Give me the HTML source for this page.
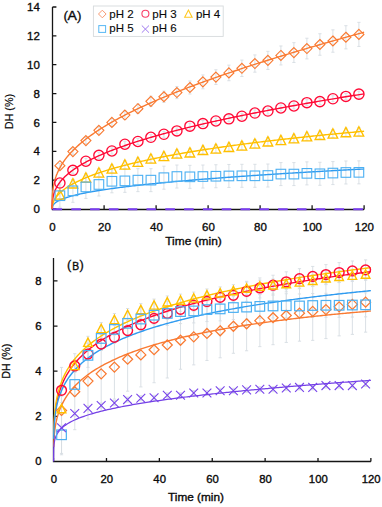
<!DOCTYPE html>
<html><head><meta charset="utf-8"><style>
html,body{margin:0;padding:0;background:#fff;}
body{width:382px;height:507px;overflow:hidden;font-family:"Liberation Sans",sans-serif;}
svg{display:block;}
</style></head><body>
<svg width="382" height="507" viewBox="0 0 382 507">
<path d="M52.50,6.98 V209.50 H364.10 M52.50,209.00 H56.40 M52.50,180.14 H56.40 M52.50,151.28 H56.40 M52.50,122.42 H56.40 M52.50,93.56 H56.40 M52.50,64.70 H56.40 M52.50,35.84 H56.40 M52.50,6.98 H56.40 M52.10,209.50 V205.20 M104.10,209.50 V205.20 M156.10,209.50 V205.20 M208.10,209.50 V205.20 M260.10,209.50 V205.20 M312.10,209.50 V205.20 M364.10,209.50 V205.20 " fill="none" stroke="#151515" stroke-width="1.3"/>
<path d="M59.90,184.22 V207.22 M58.30,184.22 H61.50 M58.30,207.22 H61.50" fill="none" stroke="#d6dde2" stroke-width="0.90"/>
<path d="M59.90,163.46 V167.97 M58.30,163.46 H61.50 M58.30,167.97 H61.50" fill="none" stroke="#d6dde2" stroke-width="0.90"/>
<path d="M59.90,190.57 V198.57 M58.30,190.57 H61.50 M58.30,198.57 H61.50" fill="none" stroke="#d6dde2" stroke-width="0.90"/>
<path d="M59.90,180.03 V186.03 M58.30,180.03 H61.50 M58.30,186.03 H61.50" fill="none" stroke="#d6dde2" stroke-width="0.90"/>
<path d="M72.90,179.32 V202.32 M71.30,179.32 H74.50 M71.30,202.32 H74.50" fill="none" stroke="#d6dde2" stroke-width="0.90"/>
<path d="M72.90,148.89 V154.25 M71.30,148.89 H74.50 M71.30,154.25 H74.50" fill="none" stroke="#d6dde2" stroke-width="0.90"/>
<path d="M72.90,179.46 V187.46 M71.30,179.46 H74.50 M71.30,187.46 H74.50" fill="none" stroke="#d6dde2" stroke-width="0.90"/>
<path d="M72.90,167.33 V173.33 M71.30,167.33 H74.50 M71.30,173.33 H74.50" fill="none" stroke="#d6dde2" stroke-width="0.90"/>
<path d="M85.90,175.42 V198.42 M84.30,175.42 H87.50 M84.30,198.42 H87.50" fill="none" stroke="#d6dde2" stroke-width="0.90"/>
<path d="M85.90,137.50 V143.71 M84.30,137.50 H87.50 M84.30,143.71 H87.50" fill="none" stroke="#d6dde2" stroke-width="0.90"/>
<path d="M85.90,173.54 V181.54 M84.30,173.54 H87.50 M84.30,181.54 H87.50" fill="none" stroke="#d6dde2" stroke-width="0.90"/>
<path d="M85.90,158.24 V164.24 M84.30,158.24 H87.50 M84.30,164.24 H87.50" fill="none" stroke="#d6dde2" stroke-width="0.90"/>
<path d="M98.90,172.97 V195.97 M97.30,172.97 H100.50 M97.30,195.97 H100.50" fill="none" stroke="#d6dde2" stroke-width="0.90"/>
<path d="M98.90,126.83 V133.89 M97.30,126.83 H100.50 M97.30,133.89 H100.50" fill="none" stroke="#d6dde2" stroke-width="0.90"/>
<path d="M98.90,168.49 V176.49 M97.30,168.49 H100.50 M97.30,176.49 H100.50" fill="none" stroke="#d6dde2" stroke-width="0.90"/>
<path d="M98.90,152.32 V158.32 M97.30,152.32 H100.50 M97.30,158.32 H100.50" fill="none" stroke="#d6dde2" stroke-width="0.90"/>
<path d="M111.90,169.79 V192.79 M110.30,169.79 H113.50 M110.30,192.79 H113.50" fill="none" stroke="#d6dde2" stroke-width="0.90"/>
<path d="M111.90,118.47 V126.38 M110.30,118.47 H113.50 M110.30,126.38 H113.50" fill="none" stroke="#d6dde2" stroke-width="0.90"/>
<path d="M111.90,164.60 V172.60 M110.30,164.60 H113.50 M110.30,172.60 H113.50" fill="none" stroke="#d6dde2" stroke-width="0.90"/>
<path d="M111.90,147.99 V153.99 M110.30,147.99 H113.50 M110.30,153.99 H113.50" fill="none" stroke="#d6dde2" stroke-width="0.90"/>
<path d="M124.90,169.36 V192.36 M123.30,169.36 H126.50 M123.30,192.36 H126.50" fill="none" stroke="#d6dde2" stroke-width="0.90"/>
<path d="M124.90,110.68 V119.44 M123.30,110.68 H126.50 M123.30,119.44 H126.50" fill="none" stroke="#d6dde2" stroke-width="0.90"/>
<path d="M124.90,160.56 V168.56 M123.30,160.56 H126.50 M123.30,168.56 H126.50" fill="none" stroke="#d6dde2" stroke-width="0.90"/>
<path d="M124.90,141.21 V147.21 M123.30,141.21 H126.50 M123.30,147.21 H126.50" fill="none" stroke="#d6dde2" stroke-width="0.90"/>
<path d="M137.90,168.64 V191.64 M136.30,168.64 H139.50 M136.30,191.64 H139.50" fill="none" stroke="#d6dde2" stroke-width="0.90"/>
<path d="M137.90,103.91 V113.52 M136.30,103.91 H139.50 M136.30,113.52 H139.50" fill="none" stroke="#d6dde2" stroke-width="0.90"/>
<path d="M137.90,157.81 V165.81 M136.30,157.81 H139.50 M136.30,165.81 H139.50" fill="none" stroke="#d6dde2" stroke-width="0.90"/>
<path d="M137.90,138.47 V144.47 M136.30,138.47 H139.50 M136.30,144.47 H139.50" fill="none" stroke="#d6dde2" stroke-width="0.90"/>
<path d="M150.90,168.64 V191.64 M149.30,168.64 H152.50 M149.30,191.64 H152.50" fill="none" stroke="#d6dde2" stroke-width="0.90"/>
<path d="M150.90,96.12 V106.58 M149.30,96.12 H152.50 M149.30,106.58 H152.50" fill="none" stroke="#d6dde2" stroke-width="0.90"/>
<path d="M150.90,154.50 V162.50 M149.30,154.50 H152.50 M149.30,162.50 H152.50" fill="none" stroke="#d6dde2" stroke-width="0.90"/>
<path d="M150.90,134.28 V140.28 M149.30,134.28 H152.50 M149.30,140.28 H152.50" fill="none" stroke="#d6dde2" stroke-width="0.90"/>
<path d="M163.90,166.19 V189.19 M162.30,166.19 H165.50 M162.30,189.19 H165.50" fill="none" stroke="#d6dde2" stroke-width="0.90"/>
<path d="M163.90,91.08 V102.39 M162.30,91.08 H165.50 M162.30,102.39 H165.50" fill="none" stroke="#d6dde2" stroke-width="0.90"/>
<path d="M163.90,152.04 V160.04 M162.30,152.04 H165.50 M162.30,160.04 H165.50" fill="none" stroke="#d6dde2" stroke-width="0.90"/>
<path d="M163.90,131.25 V137.25 M162.30,131.25 H165.50 M162.30,137.25 H165.50" fill="none" stroke="#d6dde2" stroke-width="0.90"/>
<path d="M176.90,165.03 V188.03 M175.30,165.03 H178.50 M175.30,188.03 H178.50" fill="none" stroke="#d6dde2" stroke-width="0.90"/>
<path d="M176.90,86.47 V98.63 M175.30,86.47 H178.50 M175.30,98.63 H178.50" fill="none" stroke="#d6dde2" stroke-width="0.90"/>
<path d="M176.90,149.59 V157.59 M175.30,149.59 H178.50 M175.30,157.59 H178.50" fill="none" stroke="#d6dde2" stroke-width="0.90"/>
<path d="M176.90,127.93 V133.93 M175.30,127.93 H178.50 M175.30,133.93 H178.50" fill="none" stroke="#d6dde2" stroke-width="0.90"/>
<path d="M189.90,165.32 V188.32 M188.30,165.32 H191.50 M188.30,188.32 H191.50" fill="none" stroke="#d6dde2" stroke-width="0.90"/>
<path d="M189.90,80.99 V94.00 M188.30,80.99 H191.50 M188.30,94.00 H191.50" fill="none" stroke="#d6dde2" stroke-width="0.90"/>
<path d="M189.90,148.43 V156.43 M188.30,148.43 H191.50 M188.30,156.43 H191.50" fill="none" stroke="#d6dde2" stroke-width="0.90"/>
<path d="M189.90,123.17 V129.17 M188.30,123.17 H191.50 M188.30,129.17 H191.50" fill="none" stroke="#d6dde2" stroke-width="0.90"/>
<path d="M202.90,165.03 V188.03 M201.30,165.03 H204.50 M201.30,188.03 H204.50" fill="none" stroke="#d6dde2" stroke-width="0.90"/>
<path d="M202.90,74.94 V88.80 M201.30,74.94 H204.50 M201.30,88.80 H204.50" fill="none" stroke="#d6dde2" stroke-width="0.90"/>
<path d="M202.90,145.98 V153.98 M201.30,145.98 H204.50 M201.30,153.98 H204.50" fill="none" stroke="#d6dde2" stroke-width="0.90"/>
<path d="M202.90,120.57 V126.57 M201.30,120.57 H204.50 M201.30,126.57 H204.50" fill="none" stroke="#d6dde2" stroke-width="0.90"/>
<path d="M215.90,164.74 V187.74 M214.30,164.74 H217.50 M214.30,187.74 H217.50" fill="none" stroke="#d6dde2" stroke-width="0.90"/>
<path d="M215.90,69.75 V84.46 M214.30,69.75 H217.50 M214.30,84.46 H217.50" fill="none" stroke="#d6dde2" stroke-width="0.90"/>
<path d="M215.90,144.54 V152.54 M214.30,144.54 H217.50 M214.30,152.54 H217.50" fill="none" stroke="#d6dde2" stroke-width="0.90"/>
<path d="M215.90,117.98 V123.98 M214.30,117.98 H217.50 M214.30,123.98 H217.50" fill="none" stroke="#d6dde2" stroke-width="0.90"/>
<path d="M228.90,164.46 V187.46 M227.30,164.46 H230.50 M227.30,187.46 H230.50" fill="none" stroke="#d6dde2" stroke-width="0.90"/>
<path d="M228.90,65.15 V80.71 M227.30,65.15 H230.50 M227.30,80.71 H230.50" fill="none" stroke="#d6dde2" stroke-width="0.90"/>
<path d="M228.90,142.95 V150.95 M227.30,142.95 H230.50 M227.30,150.95 H230.50" fill="none" stroke="#d6dde2" stroke-width="0.90"/>
<path d="M228.90,115.81 V121.81 M227.30,115.81 H230.50 M227.30,121.81 H230.50" fill="none" stroke="#d6dde2" stroke-width="0.90"/>
<path d="M241.90,164.31 V187.31 M240.30,164.31 H243.50 M240.30,187.31 H243.50" fill="none" stroke="#d6dde2" stroke-width="0.90"/>
<path d="M241.90,60.10 V76.51 M240.30,60.10 H243.50 M240.30,76.51 H243.50" fill="none" stroke="#d6dde2" stroke-width="0.90"/>
<path d="M241.90,141.51 V149.51 M240.30,141.51 H243.50 M240.30,149.51 H243.50" fill="none" stroke="#d6dde2" stroke-width="0.90"/>
<path d="M241.90,113.22 V119.22 M240.30,113.22 H243.50 M240.30,119.22 H243.50" fill="none" stroke="#d6dde2" stroke-width="0.90"/>
<path d="M254.90,164.31 V187.31 M253.30,164.31 H256.50 M253.30,187.31 H256.50" fill="none" stroke="#d6dde2" stroke-width="0.90"/>
<path d="M254.90,54.92 V72.18 M253.30,54.92 H256.50 M253.30,72.18 H256.50" fill="none" stroke="#d6dde2" stroke-width="0.90"/>
<path d="M254.90,139.49 V147.49 M253.30,139.49 H256.50 M253.30,147.49 H256.50" fill="none" stroke="#d6dde2" stroke-width="0.90"/>
<path d="M254.90,110.04 V116.04 M253.30,110.04 H256.50 M253.30,116.04 H256.50" fill="none" stroke="#d6dde2" stroke-width="0.90"/>
<path d="M267.90,164.02 V187.02 M266.30,164.02 H269.50 M266.30,187.02 H269.50" fill="none" stroke="#d6dde2" stroke-width="0.90"/>
<path d="M267.90,51.32 V69.43 M266.30,51.32 H269.50 M266.30,69.43 H269.50" fill="none" stroke="#d6dde2" stroke-width="0.90"/>
<path d="M267.90,137.47 V145.47 M266.30,137.47 H269.50 M266.30,145.47 H269.50" fill="none" stroke="#d6dde2" stroke-width="0.90"/>
<path d="M267.90,108.02 V114.02 M266.30,108.02 H269.50 M266.30,114.02 H269.50" fill="none" stroke="#d6dde2" stroke-width="0.90"/>
<path d="M280.90,162.58 V185.58 M279.30,162.58 H282.50 M279.30,185.58 H282.50" fill="none" stroke="#d6dde2" stroke-width="0.90"/>
<path d="M280.90,45.98 V64.94 M279.30,45.98 H282.50 M279.30,64.94 H282.50" fill="none" stroke="#d6dde2" stroke-width="0.90"/>
<path d="M280.90,136.02 V144.02 M279.30,136.02 H282.50 M279.30,144.02 H282.50" fill="none" stroke="#d6dde2" stroke-width="0.90"/>
<path d="M280.90,104.99 V110.99 M279.30,104.99 H282.50 M279.30,110.99 H282.50" fill="none" stroke="#d6dde2" stroke-width="0.90"/>
<path d="M293.90,162.58 V185.58 M292.30,162.58 H295.50 M292.30,185.58 H295.50" fill="none" stroke="#d6dde2" stroke-width="0.90"/>
<path d="M293.90,42.67 V62.48 M292.30,42.67 H295.50 M292.30,62.48 H295.50" fill="none" stroke="#d6dde2" stroke-width="0.90"/>
<path d="M293.90,134.29 V142.29 M292.30,134.29 H295.50 M292.30,142.29 H295.50" fill="none" stroke="#d6dde2" stroke-width="0.90"/>
<path d="M293.90,102.97 V108.97 M292.30,102.97 H295.50 M292.30,108.97 H295.50" fill="none" stroke="#d6dde2" stroke-width="0.90"/>
<path d="M306.90,161.86 V184.86 M305.30,161.86 H308.50 M305.30,184.86 H308.50" fill="none" stroke="#d6dde2" stroke-width="0.90"/>
<path d="M306.90,38.21 V58.87 M305.30,38.21 H308.50 M305.30,58.87 H308.50" fill="none" stroke="#d6dde2" stroke-width="0.90"/>
<path d="M306.90,132.27 V140.27 M305.30,132.27 H308.50 M305.30,140.27 H308.50" fill="none" stroke="#d6dde2" stroke-width="0.90"/>
<path d="M306.90,99.65 V105.65 M305.30,99.65 H308.50 M305.30,105.65 H308.50" fill="none" stroke="#d6dde2" stroke-width="0.90"/>
<path d="M319.90,162.29 V185.29 M318.30,162.29 H321.50 M318.30,185.29 H321.50" fill="none" stroke="#d6dde2" stroke-width="0.90"/>
<path d="M319.90,33.74 V55.25 M318.30,33.74 H321.50 M318.30,55.25 H321.50" fill="none" stroke="#d6dde2" stroke-width="0.90"/>
<path d="M319.90,130.97 V138.97 M318.30,130.97 H321.50 M318.30,138.97 H321.50" fill="none" stroke="#d6dde2" stroke-width="0.90"/>
<path d="M319.90,98.64 V104.64 M318.30,98.64 H321.50 M318.30,104.64 H321.50" fill="none" stroke="#d6dde2" stroke-width="0.90"/>
<path d="M332.90,161.57 V184.57 M331.30,161.57 H334.50 M331.30,184.57 H334.50" fill="none" stroke="#d6dde2" stroke-width="0.90"/>
<path d="M332.90,29.85 V52.21 M331.30,29.85 H334.50 M331.30,52.21 H334.50" fill="none" stroke="#d6dde2" stroke-width="0.90"/>
<path d="M332.90,129.53 V137.53 M331.30,129.53 H334.50 M331.30,137.53 H334.50" fill="none" stroke="#d6dde2" stroke-width="0.90"/>
<path d="M332.90,95.75 V101.75 M331.30,95.75 H334.50 M331.30,101.75 H334.50" fill="none" stroke="#d6dde2" stroke-width="0.90"/>
<path d="M345.90,160.99 V183.99 M344.30,160.99 H347.50 M344.30,183.99 H347.50" fill="none" stroke="#d6dde2" stroke-width="0.90"/>
<path d="M345.90,25.68 V48.89 M344.30,25.68 H347.50 M344.30,48.89 H347.50" fill="none" stroke="#d6dde2" stroke-width="0.90"/>
<path d="M345.90,128.23 V136.23 M344.30,128.23 H347.50 M344.30,136.23 H347.50" fill="none" stroke="#d6dde2" stroke-width="0.90"/>
<path d="M345.90,93.45 V99.45 M344.30,93.45 H347.50 M344.30,99.45 H347.50" fill="none" stroke="#d6dde2" stroke-width="0.90"/>
<path d="M358.90,160.85 V183.85 M357.30,160.85 H360.50 M357.30,183.85 H360.50" fill="none" stroke="#d6dde2" stroke-width="0.90"/>
<path d="M358.90,22.37 V46.43 M357.30,22.37 H360.50 M357.30,46.43 H360.50" fill="none" stroke="#d6dde2" stroke-width="0.90"/>
<path d="M358.90,127.51 V135.51 M357.30,127.51 H360.50 M357.30,135.51 H360.50" fill="none" stroke="#d6dde2" stroke-width="0.90"/>
<path d="M358.90,91.14 V97.14 M357.30,91.14 H360.50 M357.30,97.14 H360.50" fill="none" stroke="#d6dde2" stroke-width="0.90"/>
<path d="M52.10,209.00 L52.19,207.56 L52.28,207.09 L52.36,206.75 L52.45,206.47 L52.54,206.23 L52.63,206.02 L52.72,205.83 L52.81,205.65 L52.89,205.48 L52.98,205.33 L53.07,205.19 L53.16,205.05 L53.25,204.92 L53.33,204.79 L53.42,204.67 L53.51,204.56 L53.60,204.45 L53.69,204.34 L53.77,204.23 L53.86,204.13 L53.95,204.04 L54.04,203.94 L54.13,203.85 L54.22,203.76 L54.30,203.67 L54.39,203.59 L54.48,203.50 L54.57,203.42 L54.66,203.34 L54.74,203.26 L54.83,203.18 L54.92,203.11 L55.01,203.03 L55.10,202.96 L55.18,202.89 L55.27,202.82 L55.36,202.75 L55.45,202.68 L55.54,202.61 L55.63,202.55 L55.71,202.48 L55.80,202.42 L55.89,202.36 L55.98,202.29 L56.07,202.23 L56.15,202.17 L56.24,202.11 L56.33,202.05 L56.42,201.99 L56.51,201.93 L56.59,201.88 L56.68,201.82 L56.77,201.77 L56.86,201.71 L56.95,201.66 L57.04,201.60 L57.12,201.55 L57.21,201.49 L57.30,201.44 L58.84,200.60 L60.38,199.87 L61.93,199.21 L63.47,198.61 L65.01,198.06 L66.55,197.54 L68.09,197.06 L69.63,196.61 L71.18,196.17 L72.72,195.76 L74.26,195.37 L75.80,194.99 L77.34,194.62 L78.88,194.27 L80.43,193.93 L81.97,193.61 L83.51,193.29 L85.05,192.98 L86.59,192.68 L88.13,192.38 L89.68,192.10 L91.22,191.82 L92.76,191.55 L94.30,191.28 L95.84,191.02 L97.38,190.76 L98.93,190.51 L100.47,190.27 L102.01,190.03 L103.55,189.79 L105.09,189.56 L106.63,189.33 L108.18,189.11 L109.72,188.89 L111.26,188.67 L112.80,188.45 L114.34,188.24 L115.88,188.04 L117.43,187.83 L118.97,187.63 L120.51,187.43 L122.05,187.23 L123.59,187.04 L125.14,186.85 L126.68,186.66 L128.22,186.47 L129.76,186.29 L131.30,186.10 L132.84,185.92 L134.39,185.75 L135.93,185.57 L137.47,185.39 L139.01,185.22 L140.55,185.05 L142.09,184.88 L143.64,184.72 L145.18,184.55 L146.72,184.39 L148.26,184.22 L149.80,184.06 L151.34,183.90 L152.89,183.74 L154.43,183.59 L155.97,183.43 L157.51,183.28 L159.05,183.13 L160.59,182.98 L162.14,182.83 L163.68,182.68 L165.22,182.53 L166.76,182.38 L168.30,182.24 L169.84,182.09 L171.39,181.95 L172.93,181.81 L174.47,181.67 L176.01,181.53 L177.55,181.39 L179.09,181.25 L180.64,181.12 L182.18,180.98 L183.72,180.85 L185.26,180.71 L186.80,180.58 L188.35,180.45 L189.89,180.32 L191.43,180.19 L192.97,180.06 L194.51,179.93 L196.05,179.80 L197.60,179.67 L199.14,179.55 L200.68,179.42 L202.22,179.30 L203.76,179.17 L205.30,179.05 L206.85,178.93 L208.39,178.81 L209.93,178.69 L211.47,178.57 L213.01,178.45 L214.55,178.33 L216.10,178.21 L217.64,178.09 L219.18,177.98 L220.72,177.86 L222.26,177.74 L223.80,177.63 L225.35,177.51 L226.89,177.40 L228.43,177.29 L229.97,177.18 L231.51,177.06 L233.05,176.95 L234.60,176.84 L236.14,176.73 L237.68,176.62 L239.22,176.51 L240.76,176.40 L242.31,176.30 L243.85,176.19 L245.39,176.08 L246.93,175.97 L248.47,175.87 L250.01,175.76 L251.56,175.66 L253.10,175.55 L254.64,175.45 L256.18,175.34 L257.72,175.24 L259.26,175.14 L260.81,175.04 L262.35,174.93 L263.89,174.83 L265.43,174.73 L266.97,174.63 L268.51,174.53 L270.06,174.43 L271.60,174.33 L273.14,174.23 L274.68,174.13 L276.22,174.04 L277.76,173.94 L279.31,173.84 L280.85,173.74 L282.39,173.65 L283.93,173.55 L285.47,173.46 L287.01,173.36 L288.56,173.27 L290.10,173.17 L291.64,173.08 L293.18,172.98 L294.72,172.89 L296.26,172.80 L297.81,172.70 L299.35,172.61 L300.89,172.52 L302.43,172.43 L303.97,172.34 L305.52,172.24 L307.06,172.15 L308.60,172.06 L310.14,171.97 L311.68,171.88 L313.22,171.79 L314.77,171.70 L316.31,171.61 L317.85,171.53 L319.39,171.44 L320.93,171.35 L322.47,171.26 L324.02,171.17 L325.56,171.09 L327.10,171.00 L328.64,170.91 L330.18,170.83 L331.72,170.74 L333.27,170.66 L334.81,170.57 L336.35,170.49 L337.89,170.40 L339.43,170.32 L340.97,170.23 L342.52,170.15 L344.06,170.06 L345.60,169.98 L347.14,169.90 L348.68,169.81 L350.22,169.73 L351.77,169.65 L353.31,169.57 L354.85,169.48 L356.39,169.40 L357.93,169.32 L359.47,169.24 L361.02,169.16 L362.56,169.08 L364.10,169.00" fill="none" stroke="#2f9bf0" stroke-width="1.40" stroke-linejoin="round"/>
<path d="M52.10,209.00 L52.19,207.07 L52.28,206.31 L52.36,205.74 L52.45,205.26 L52.54,204.84 L52.63,204.47 L52.72,204.12 L52.81,203.80 L52.89,203.51 L52.98,203.22 L53.07,202.96 L53.16,202.70 L53.25,202.46 L53.33,202.23 L53.42,202.00 L53.51,201.79 L53.60,201.58 L53.69,201.37 L53.77,201.18 L53.86,200.99 L53.95,200.80 L54.04,200.62 L54.13,200.44 L54.22,200.27 L54.30,200.10 L54.39,199.93 L54.48,199.77 L54.57,199.61 L54.66,199.46 L54.74,199.30 L54.83,199.15 L54.92,199.00 L55.01,198.86 L55.10,198.72 L55.18,198.57 L55.27,198.44 L55.36,198.30 L55.45,198.16 L55.54,198.03 L55.63,197.90 L55.71,197.77 L55.80,197.64 L55.89,197.52 L55.98,197.40 L56.07,197.27 L56.15,197.15 L56.24,197.03 L56.33,196.91 L56.42,196.80 L56.51,196.68 L56.59,196.57 L56.68,196.45 L56.77,196.34 L56.86,196.23 L56.95,196.12 L57.04,196.01 L57.12,195.90 L57.21,195.80 L57.30,195.69 L58.84,193.98 L60.38,192.48 L61.93,191.13 L63.47,189.89 L65.01,188.74 L66.55,187.66 L68.09,186.65 L69.63,185.70 L71.18,184.79 L72.72,183.92 L74.26,183.09 L75.80,182.29 L77.34,181.52 L78.88,180.78 L80.43,180.07 L81.97,179.37 L83.51,178.70 L85.05,178.05 L86.59,177.41 L88.13,176.79 L89.68,176.19 L91.22,175.60 L92.76,175.03 L94.30,174.46 L95.84,173.92 L97.38,173.38 L98.93,172.85 L100.47,172.34 L102.01,171.83 L103.55,171.34 L105.09,170.85 L106.63,170.37 L108.18,169.90 L109.72,169.44 L111.26,168.98 L112.80,168.54 L114.34,168.10 L115.88,167.67 L117.43,167.24 L118.97,166.82 L120.51,166.41 L122.05,166.00 L123.59,165.60 L125.14,165.20 L126.68,164.81 L128.22,164.42 L129.76,164.04 L131.30,163.67 L132.84,163.29 L134.39,162.93 L135.93,162.56 L137.47,162.21 L139.01,161.85 L140.55,161.50 L142.09,161.16 L143.64,160.82 L145.18,160.48 L146.72,160.14 L148.26,159.81 L149.80,159.49 L151.34,159.16 L152.89,158.84 L154.43,158.53 L155.97,158.21 L157.51,157.90 L159.05,157.59 L160.59,157.29 L162.14,156.99 L163.68,156.69 L165.22,156.39 L166.76,156.10 L168.30,155.81 L169.84,155.52 L171.39,155.24 L172.93,154.95 L174.47,154.67 L176.01,154.40 L177.55,154.12 L179.09,153.85 L180.64,153.58 L182.18,153.31 L183.72,153.04 L185.26,152.78 L186.80,152.52 L188.35,152.26 L189.89,152.00 L191.43,151.74 L192.97,151.49 L194.51,151.24 L196.05,150.99 L197.60,150.74 L199.14,150.49 L200.68,150.25 L202.22,150.01 L203.76,149.77 L205.30,149.53 L206.85,149.29 L208.39,149.06 L209.93,148.82 L211.47,148.59 L213.01,148.36 L214.55,148.13 L216.10,147.90 L217.64,147.68 L219.18,147.45 L220.72,147.23 L222.26,147.01 L223.80,146.79 L225.35,146.57 L226.89,146.36 L228.43,146.14 L229.97,145.93 L231.51,145.71 L233.05,145.50 L234.60,145.29 L236.14,145.09 L237.68,144.88 L239.22,144.67 L240.76,144.47 L242.31,144.26 L243.85,144.06 L245.39,143.86 L246.93,143.66 L248.47,143.46 L250.01,143.27 L251.56,143.07 L253.10,142.88 L254.64,142.68 L256.18,142.49 L257.72,142.30 L259.26,142.11 L260.81,141.92 L262.35,141.73 L263.89,141.54 L265.43,141.36 L266.97,141.17 L268.51,140.99 L270.06,140.81 L271.60,140.62 L273.14,140.44 L274.68,140.26 L276.22,140.08 L277.76,139.91 L279.31,139.73 L280.85,139.55 L282.39,139.38 L283.93,139.20 L285.47,139.03 L287.01,138.86 L288.56,138.69 L290.10,138.52 L291.64,138.35 L293.18,138.18 L294.72,138.01 L296.26,137.84 L297.81,137.68 L299.35,137.51 L300.89,137.35 L302.43,137.18 L303.97,137.02 L305.52,136.86 L307.06,136.70 L308.60,136.54 L310.14,136.38 L311.68,136.22 L313.22,136.06 L314.77,135.90 L316.31,135.75 L317.85,135.59 L319.39,135.44 L320.93,135.28 L322.47,135.13 L324.02,134.98 L325.56,134.82 L327.10,134.67 L328.64,134.52 L330.18,134.37 L331.72,134.22 L333.27,134.08 L334.81,133.93 L336.35,133.78 L337.89,133.63 L339.43,133.49 L340.97,133.34 L342.52,133.20 L344.06,133.05 L345.60,132.91 L347.14,132.77 L348.68,132.63 L350.22,132.49 L351.77,132.35 L353.31,132.21 L354.85,132.07 L356.39,131.93 L357.93,131.79 L359.47,131.65 L361.02,131.51 L362.56,131.38 L364.10,131.24" fill="none" stroke="#ffc000" stroke-width="1.40" stroke-linejoin="round"/>
<path d="M52.10,209.00 L52.19,204.06 L52.28,202.60 L52.36,201.54 L52.45,200.69 L52.54,199.97 L52.63,199.32 L52.72,198.75 L52.81,198.22 L52.89,197.73 L52.98,197.28 L53.07,196.85 L53.16,196.44 L53.25,196.06 L53.33,195.69 L53.42,195.34 L53.51,195.01 L53.60,194.68 L53.69,194.37 L53.77,194.07 L53.86,193.78 L53.95,193.50 L54.04,193.22 L54.13,192.95 L54.22,192.69 L54.30,192.44 L54.39,192.19 L54.48,191.95 L54.57,191.72 L54.66,191.49 L54.74,191.26 L54.83,191.04 L54.92,190.82 L55.01,190.61 L55.10,190.40 L55.18,190.20 L55.27,190.00 L55.36,189.80 L55.45,189.60 L55.54,189.41 L55.63,189.22 L55.71,189.04 L55.80,188.86 L55.89,188.68 L55.98,188.50 L56.07,188.32 L56.15,188.15 L56.24,187.98 L56.33,187.81 L56.42,187.65 L56.51,187.48 L56.59,187.32 L56.68,187.16 L56.77,187.00 L56.86,186.84 L56.95,186.69 L57.04,186.54 L57.12,186.39 L57.21,186.24 L57.30,186.09 L58.84,183.72 L60.38,181.66 L61.93,179.82 L63.47,178.15 L65.01,176.61 L66.55,175.18 L68.09,173.84 L69.63,172.58 L71.18,171.38 L72.72,170.24 L74.26,169.15 L75.80,168.10 L77.34,167.09 L78.88,166.12 L80.43,165.18 L81.97,164.27 L83.51,163.39 L85.05,162.53 L86.59,161.70 L88.13,160.89 L89.68,160.10 L91.22,159.33 L92.76,158.57 L94.30,157.83 L95.84,157.11 L97.38,156.40 L98.93,155.71 L100.47,155.03 L102.01,154.36 L103.55,153.70 L105.09,153.06 L106.63,152.42 L108.18,151.80 L109.72,151.18 L111.26,150.58 L112.80,149.98 L114.34,149.40 L115.88,148.82 L117.43,148.25 L118.97,147.68 L120.51,147.13 L122.05,146.58 L123.59,146.04 L125.14,145.50 L126.68,144.97 L128.22,144.45 L129.76,143.93 L131.30,143.42 L132.84,142.92 L134.39,142.42 L135.93,141.92 L137.47,141.43 L139.01,140.95 L140.55,140.47 L142.09,139.99 L143.64,139.52 L145.18,139.06 L146.72,138.59 L148.26,138.14 L149.80,137.68 L151.34,137.23 L152.89,136.79 L154.43,136.35 L155.97,135.91 L157.51,135.47 L159.05,135.04 L160.59,134.62 L162.14,134.19 L163.68,133.77 L165.22,133.35 L166.76,132.94 L168.30,132.53 L169.84,132.12 L171.39,131.71 L172.93,131.31 L174.47,130.91 L176.01,130.51 L177.55,130.12 L179.09,129.73 L180.64,129.34 L182.18,128.95 L183.72,128.57 L185.26,128.19 L186.80,127.81 L188.35,127.43 L189.89,127.06 L191.43,126.68 L192.97,126.31 L194.51,125.95 L196.05,125.58 L197.60,125.22 L199.14,124.86 L200.68,124.50 L202.22,124.14 L203.76,123.78 L205.30,123.43 L206.85,123.08 L208.39,122.73 L209.93,122.38 L211.47,122.04 L213.01,121.69 L214.55,121.35 L216.10,121.01 L217.64,120.67 L219.18,120.33 L220.72,120.00 L222.26,119.66 L223.80,119.33 L225.35,119.00 L226.89,118.67 L228.43,118.35 L229.97,118.02 L231.51,117.69 L233.05,117.37 L234.60,117.05 L236.14,116.73 L237.68,116.41 L239.22,116.09 L240.76,115.78 L242.31,115.46 L243.85,115.15 L245.39,114.84 L246.93,114.53 L248.47,114.22 L250.01,113.91 L251.56,113.60 L253.10,113.30 L254.64,113.00 L256.18,112.69 L257.72,112.39 L259.26,112.09 L260.81,111.79 L262.35,111.49 L263.89,111.20 L265.43,110.90 L266.97,110.60 L268.51,110.31 L270.06,110.02 L271.60,109.73 L273.14,109.44 L274.68,109.15 L276.22,108.86 L277.76,108.57 L279.31,108.28 L280.85,108.00 L282.39,107.72 L283.93,107.43 L285.47,107.15 L287.01,106.87 L288.56,106.59 L290.10,106.31 L291.64,106.03 L293.18,105.75 L294.72,105.48 L296.26,105.20 L297.81,104.93 L299.35,104.65 L300.89,104.38 L302.43,104.11 L303.97,103.83 L305.52,103.56 L307.06,103.29 L308.60,103.03 L310.14,102.76 L311.68,102.49 L313.22,102.22 L314.77,101.96 L316.31,101.69 L317.85,101.43 L319.39,101.17 L320.93,100.90 L322.47,100.64 L324.02,100.38 L325.56,100.12 L327.10,99.86 L328.64,99.60 L330.18,99.35 L331.72,99.09 L333.27,98.83 L334.81,98.58 L336.35,98.32 L337.89,98.07 L339.43,97.81 L340.97,97.56 L342.52,97.31 L344.06,97.06 L345.60,96.81 L347.14,96.56 L348.68,96.31 L350.22,96.06 L351.77,95.81 L353.31,95.56 L354.85,95.31 L356.39,95.07 L357.93,94.82 L359.47,94.58 L361.02,94.33 L362.56,94.09 L364.10,93.85" fill="none" stroke="#ff0a36" stroke-width="1.40" stroke-linejoin="round"/>
<path d="M52.10,209.00 L52.19,199.91 L52.28,197.54 L52.36,195.88 L52.45,194.56 L52.54,193.44 L52.63,192.46 L52.72,191.58 L52.81,190.78 L52.89,190.04 L52.98,189.36 L53.07,188.72 L53.16,188.12 L53.25,187.55 L53.33,187.00 L53.42,186.49 L53.51,185.99 L53.60,185.51 L53.69,185.06 L53.77,184.61 L53.86,184.19 L53.95,183.77 L54.04,183.37 L54.13,182.98 L54.22,182.61 L54.30,182.24 L54.39,181.88 L54.48,181.53 L54.57,181.19 L54.66,180.85 L54.74,180.53 L54.83,180.21 L54.92,179.89 L55.01,179.59 L55.10,179.29 L55.18,178.99 L55.27,178.70 L55.36,178.42 L55.45,178.14 L55.54,177.86 L55.63,177.59 L55.71,177.32 L55.80,177.06 L55.89,176.80 L55.98,176.55 L56.07,176.30 L56.15,176.05 L56.24,175.81 L56.33,175.57 L56.42,175.33 L56.51,175.10 L56.59,174.86 L56.68,174.64 L56.77,174.41 L56.86,174.19 L56.95,173.97 L57.04,173.75 L57.12,173.53 L57.21,173.32 L57.30,173.11 L58.84,169.74 L60.38,166.82 L61.93,164.22 L63.47,161.87 L65.01,159.70 L66.55,157.68 L68.09,155.79 L69.63,154.01 L71.18,152.31 L72.72,150.70 L74.26,149.15 L75.80,147.67 L77.34,146.24 L78.88,144.86 L80.43,143.52 L81.97,142.23 L83.51,140.97 L85.05,139.74 L86.59,138.55 L88.13,137.39 L89.68,136.26 L91.22,135.15 L92.76,134.06 L94.30,133.00 L95.84,131.95 L97.38,130.93 L98.93,129.93 L100.47,128.94 L102.01,127.97 L103.55,127.02 L105.09,126.08 L106.63,125.15 L108.18,124.24 L109.72,123.34 L111.26,122.46 L112.80,121.59 L114.34,120.72 L115.88,119.87 L117.43,119.03 L118.97,118.20 L120.51,117.38 L122.05,116.57 L123.59,115.77 L125.14,114.97 L126.68,114.19 L128.22,113.41 L129.76,112.64 L131.30,111.88 L132.84,111.12 L134.39,110.38 L135.93,109.64 L137.47,108.90 L139.01,108.18 L140.55,107.45 L142.09,106.74 L143.64,106.03 L145.18,105.33 L146.72,104.63 L148.26,103.94 L149.80,103.25 L151.34,102.57 L152.89,101.89 L154.43,101.22 L155.97,100.55 L157.51,99.89 L159.05,99.23 L160.59,98.58 L162.14,97.93 L163.68,97.28 L165.22,96.64 L166.76,96.01 L168.30,95.37 L169.84,94.75 L171.39,94.12 L172.93,93.50 L174.47,92.88 L176.01,92.27 L177.55,91.66 L179.09,91.05 L180.64,90.45 L182.18,89.84 L183.72,89.25 L185.26,88.65 L186.80,88.06 L188.35,87.47 L189.89,86.89 L191.43,86.31 L192.97,85.73 L194.51,85.15 L196.05,84.58 L197.60,84.00 L199.14,83.44 L200.68,82.87 L202.22,82.31 L203.76,81.74 L205.30,81.19 L206.85,80.63 L208.39,80.08 L209.93,79.53 L211.47,78.98 L213.01,78.43 L214.55,77.89 L216.10,77.34 L217.64,76.80 L219.18,76.27 L220.72,75.73 L222.26,75.20 L223.80,74.67 L225.35,74.14 L226.89,73.61 L228.43,73.08 L229.97,72.56 L231.51,72.04 L233.05,71.52 L234.60,71.00 L236.14,70.48 L237.68,69.97 L239.22,69.46 L240.76,68.94 L242.31,68.44 L243.85,67.93 L245.39,67.42 L246.93,66.92 L248.47,66.42 L250.01,65.91 L251.56,65.41 L253.10,64.92 L254.64,64.42 L256.18,63.93 L257.72,63.43 L259.26,62.94 L260.81,62.45 L262.35,61.96 L263.89,61.48 L265.43,60.99 L266.97,60.50 L268.51,60.02 L270.06,59.54 L271.60,59.06 L273.14,58.58 L274.68,58.10 L276.22,57.63 L277.76,57.15 L279.31,56.68 L280.85,56.21 L282.39,55.73 L283.93,55.26 L285.47,54.79 L287.01,54.33 L288.56,53.86 L290.10,53.40 L291.64,52.93 L293.18,52.47 L294.72,52.01 L296.26,51.55 L297.81,51.09 L299.35,50.63 L300.89,50.17 L302.43,49.71 L303.97,49.26 L305.52,48.81 L307.06,48.35 L308.60,47.90 L310.14,47.45 L311.68,47.00 L313.22,46.55 L314.77,46.10 L316.31,45.66 L317.85,45.21 L319.39,44.76 L320.93,44.32 L322.47,43.88 L324.02,43.44 L325.56,42.99 L327.10,42.55 L328.64,42.11 L330.18,41.68 L331.72,41.24 L333.27,40.80 L334.81,40.37 L336.35,39.93 L337.89,39.50 L339.43,39.06 L340.97,38.63 L342.52,38.20 L344.06,37.77 L345.60,37.34 L347.14,36.91 L348.68,36.48 L350.22,36.06 L351.77,35.63 L353.31,35.20 L354.85,34.78 L356.39,34.36 L357.93,33.93 L359.47,33.51 L361.02,33.09 L362.56,32.67 L364.10,32.25" fill="none" stroke="#f97a32" stroke-width="1.40" stroke-linejoin="round"/>
<path d="M59.90,160.71 L64.90,165.71 L59.90,170.71 L54.90,165.71 Z" fill="none" stroke="#f97a32" stroke-width="1.15"/>
<circle cx="59.90" cy="183.03" r="5.10" fill="none" stroke="#ff0a36" stroke-width="1.35"/>
<path d="M59.90,189.77 L64.70,199.13 L55.10,199.13 Z" fill="none" stroke="#ffc000" stroke-width="1.35" stroke-linejoin="miter"/>
<rect x="55.10" y="190.92" width="9.60" height="9.60" fill="none" stroke="#4cb0f2" stroke-width="1.10"/>
<path d="M72.90,146.57 L77.90,151.57 L72.90,156.57 L67.90,151.57 Z" fill="none" stroke="#f97a32" stroke-width="1.15"/>
<circle cx="72.90" cy="170.33" r="5.10" fill="none" stroke="#ff0a36" stroke-width="1.35"/>
<path d="M72.90,178.66 L77.70,188.02 L68.10,188.02 Z" fill="none" stroke="#ffc000" stroke-width="1.35" stroke-linejoin="miter"/>
<rect x="68.10" y="186.02" width="9.60" height="9.60" fill="none" stroke="#4cb0f2" stroke-width="1.10"/>
<path d="M85.90,135.60 L90.90,140.60 L85.90,145.60 L80.90,140.60 Z" fill="none" stroke="#f97a32" stroke-width="1.15"/>
<circle cx="85.90" cy="161.24" r="5.10" fill="none" stroke="#ff0a36" stroke-width="1.35"/>
<path d="M85.90,172.74 L90.70,182.10 L81.10,182.10 Z" fill="none" stroke="#ffc000" stroke-width="1.35" stroke-linejoin="miter"/>
<rect x="81.10" y="182.12" width="9.60" height="9.60" fill="none" stroke="#4cb0f2" stroke-width="1.10"/>
<path d="M98.90,125.36 L103.90,130.36 L98.90,135.36 L93.90,130.36 Z" fill="none" stroke="#f97a32" stroke-width="1.15"/>
<circle cx="98.90" cy="155.32" r="5.10" fill="none" stroke="#ff0a36" stroke-width="1.35"/>
<path d="M98.90,167.69 L103.70,177.05 L94.10,177.05 Z" fill="none" stroke="#ffc000" stroke-width="1.35" stroke-linejoin="miter"/>
<rect x="94.10" y="179.67" width="9.60" height="9.60" fill="none" stroke="#4cb0f2" stroke-width="1.10"/>
<path d="M111.90,117.42 L116.90,122.42 L111.90,127.42 L106.90,122.42 Z" fill="none" stroke="#f97a32" stroke-width="1.15"/>
<circle cx="111.90" cy="150.99" r="5.10" fill="none" stroke="#ff0a36" stroke-width="1.35"/>
<path d="M111.90,163.80 L116.70,173.16 L107.10,173.16 Z" fill="none" stroke="#ffc000" stroke-width="1.35" stroke-linejoin="miter"/>
<rect x="107.10" y="176.49" width="9.60" height="9.60" fill="none" stroke="#4cb0f2" stroke-width="1.10"/>
<path d="M124.90,110.06 L129.90,115.06 L124.90,120.06 L119.90,115.06 Z" fill="none" stroke="#f97a32" stroke-width="1.15"/>
<circle cx="124.90" cy="144.21" r="5.10" fill="none" stroke="#ff0a36" stroke-width="1.35"/>
<path d="M124.90,159.76 L129.70,169.12 L120.10,169.12 Z" fill="none" stroke="#ffc000" stroke-width="1.35" stroke-linejoin="miter"/>
<rect x="120.10" y="176.06" width="9.60" height="9.60" fill="none" stroke="#4cb0f2" stroke-width="1.10"/>
<path d="M137.90,103.71 L142.90,108.71 L137.90,113.71 L132.90,108.71 Z" fill="none" stroke="#f97a32" stroke-width="1.15"/>
<circle cx="137.90" cy="141.47" r="5.10" fill="none" stroke="#ff0a36" stroke-width="1.35"/>
<path d="M137.90,157.01 L142.70,166.37 L133.10,166.37 Z" fill="none" stroke="#ffc000" stroke-width="1.35" stroke-linejoin="miter"/>
<rect x="133.10" y="175.34" width="9.60" height="9.60" fill="none" stroke="#4cb0f2" stroke-width="1.10"/>
<path d="M150.90,96.35 L155.90,101.35 L150.90,106.35 L145.90,101.35 Z" fill="none" stroke="#f97a32" stroke-width="1.15"/>
<circle cx="150.90" cy="137.28" r="5.10" fill="none" stroke="#ff0a36" stroke-width="1.35"/>
<path d="M150.90,153.69 L155.70,163.06 L146.10,163.06 Z" fill="none" stroke="#ffc000" stroke-width="1.35" stroke-linejoin="miter"/>
<rect x="146.10" y="175.34" width="9.60" height="9.60" fill="none" stroke="#4cb0f2" stroke-width="1.10"/>
<path d="M163.90,91.73 L168.90,96.73 L163.90,101.73 L158.90,96.73 Z" fill="none" stroke="#f97a32" stroke-width="1.15"/>
<circle cx="163.90" cy="134.25" r="5.10" fill="none" stroke="#ff0a36" stroke-width="1.35"/>
<path d="M163.90,151.24 L168.70,160.60 L159.10,160.60 Z" fill="none" stroke="#ffc000" stroke-width="1.35" stroke-linejoin="miter"/>
<rect x="159.10" y="172.89" width="9.60" height="9.60" fill="none" stroke="#4cb0f2" stroke-width="1.10"/>
<path d="M176.90,87.55 L181.90,92.55 L176.90,97.55 L171.90,92.55 Z" fill="none" stroke="#f97a32" stroke-width="1.15"/>
<circle cx="176.90" cy="130.93" r="5.10" fill="none" stroke="#ff0a36" stroke-width="1.35"/>
<path d="M176.90,148.79 L181.70,158.15 L172.10,158.15 Z" fill="none" stroke="#ffc000" stroke-width="1.35" stroke-linejoin="miter"/>
<rect x="172.10" y="171.73" width="9.60" height="9.60" fill="none" stroke="#4cb0f2" stroke-width="1.10"/>
<path d="M189.90,82.50 L194.90,87.50 L189.90,92.50 L184.90,87.50 Z" fill="none" stroke="#f97a32" stroke-width="1.15"/>
<circle cx="189.90" cy="126.17" r="5.10" fill="none" stroke="#ff0a36" stroke-width="1.35"/>
<path d="M189.90,147.63 L194.70,156.99 L185.10,156.99 Z" fill="none" stroke="#ffc000" stroke-width="1.35" stroke-linejoin="miter"/>
<rect x="185.10" y="172.02" width="9.60" height="9.60" fill="none" stroke="#4cb0f2" stroke-width="1.10"/>
<path d="M202.90,76.87 L207.90,81.87 L202.90,86.87 L197.90,81.87 Z" fill="none" stroke="#f97a32" stroke-width="1.15"/>
<circle cx="202.90" cy="123.57" r="5.10" fill="none" stroke="#ff0a36" stroke-width="1.35"/>
<path d="M202.90,145.18 L207.70,154.54 L198.10,154.54 Z" fill="none" stroke="#ffc000" stroke-width="1.35" stroke-linejoin="miter"/>
<rect x="198.10" y="171.73" width="9.60" height="9.60" fill="none" stroke="#4cb0f2" stroke-width="1.10"/>
<path d="M215.90,72.11 L220.90,77.11 L215.90,82.11 L210.90,77.11 Z" fill="none" stroke="#f97a32" stroke-width="1.15"/>
<circle cx="215.90" cy="120.98" r="5.10" fill="none" stroke="#ff0a36" stroke-width="1.35"/>
<path d="M215.90,143.74 L220.70,153.10 L211.10,153.10 Z" fill="none" stroke="#ffc000" stroke-width="1.35" stroke-linejoin="miter"/>
<rect x="211.10" y="171.44" width="9.60" height="9.60" fill="none" stroke="#4cb0f2" stroke-width="1.10"/>
<path d="M228.90,67.93 L233.90,72.93 L228.90,77.93 L223.90,72.93 Z" fill="none" stroke="#f97a32" stroke-width="1.15"/>
<circle cx="228.90" cy="118.81" r="5.10" fill="none" stroke="#ff0a36" stroke-width="1.35"/>
<path d="M228.90,142.15 L233.70,151.51 L224.10,151.51 Z" fill="none" stroke="#ffc000" stroke-width="1.35" stroke-linejoin="miter"/>
<rect x="224.10" y="171.16" width="9.60" height="9.60" fill="none" stroke="#4cb0f2" stroke-width="1.10"/>
<path d="M241.90,63.31 L246.90,68.31 L241.90,73.31 L236.90,68.31 Z" fill="none" stroke="#f97a32" stroke-width="1.15"/>
<circle cx="241.90" cy="116.22" r="5.10" fill="none" stroke="#ff0a36" stroke-width="1.35"/>
<path d="M241.90,140.71 L246.70,150.07 L237.10,150.07 Z" fill="none" stroke="#ffc000" stroke-width="1.35" stroke-linejoin="miter"/>
<rect x="237.10" y="171.01" width="9.60" height="9.60" fill="none" stroke="#4cb0f2" stroke-width="1.10"/>
<path d="M254.90,58.55 L259.90,63.55 L254.90,68.55 L249.90,63.55 Z" fill="none" stroke="#f97a32" stroke-width="1.15"/>
<circle cx="254.90" cy="113.04" r="5.10" fill="none" stroke="#ff0a36" stroke-width="1.35"/>
<path d="M254.90,138.69 L259.70,148.05 L250.10,148.05 Z" fill="none" stroke="#ffc000" stroke-width="1.35" stroke-linejoin="miter"/>
<rect x="250.10" y="171.01" width="9.60" height="9.60" fill="none" stroke="#4cb0f2" stroke-width="1.10"/>
<path d="M267.90,55.37 L272.90,60.37 L267.90,65.37 L262.90,60.37 Z" fill="none" stroke="#f97a32" stroke-width="1.15"/>
<circle cx="267.90" cy="111.02" r="5.10" fill="none" stroke="#ff0a36" stroke-width="1.35"/>
<path d="M267.90,136.67 L272.70,146.03 L263.10,146.03 Z" fill="none" stroke="#ffc000" stroke-width="1.35" stroke-linejoin="miter"/>
<rect x="263.10" y="170.72" width="9.60" height="9.60" fill="none" stroke="#4cb0f2" stroke-width="1.10"/>
<path d="M280.90,50.46 L285.90,55.46 L280.90,60.46 L275.90,55.46 Z" fill="none" stroke="#f97a32" stroke-width="1.15"/>
<circle cx="280.90" cy="107.99" r="5.10" fill="none" stroke="#ff0a36" stroke-width="1.35"/>
<path d="M280.90,135.22 L285.70,144.58 L276.10,144.58 Z" fill="none" stroke="#ffc000" stroke-width="1.35" stroke-linejoin="miter"/>
<rect x="276.10" y="169.28" width="9.60" height="9.60" fill="none" stroke="#4cb0f2" stroke-width="1.10"/>
<path d="M293.90,47.58 L298.90,52.58 L293.90,57.58 L288.90,52.58 Z" fill="none" stroke="#f97a32" stroke-width="1.15"/>
<circle cx="293.90" cy="105.97" r="5.10" fill="none" stroke="#ff0a36" stroke-width="1.35"/>
<path d="M293.90,133.49 L298.70,142.85 L289.10,142.85 Z" fill="none" stroke="#ffc000" stroke-width="1.35" stroke-linejoin="miter"/>
<rect x="289.10" y="169.28" width="9.60" height="9.60" fill="none" stroke="#4cb0f2" stroke-width="1.10"/>
<path d="M306.90,43.54 L311.90,48.54 L306.90,53.54 L301.90,48.54 Z" fill="none" stroke="#f97a32" stroke-width="1.15"/>
<circle cx="306.90" cy="102.65" r="5.10" fill="none" stroke="#ff0a36" stroke-width="1.35"/>
<path d="M306.90,131.47 L311.70,140.83 L302.10,140.83 Z" fill="none" stroke="#ffc000" stroke-width="1.35" stroke-linejoin="miter"/>
<rect x="302.10" y="168.56" width="9.60" height="9.60" fill="none" stroke="#4cb0f2" stroke-width="1.10"/>
<path d="M319.90,39.50 L324.90,44.50 L319.90,49.50 L314.90,44.50 Z" fill="none" stroke="#f97a32" stroke-width="1.15"/>
<circle cx="319.90" cy="101.64" r="5.10" fill="none" stroke="#ff0a36" stroke-width="1.35"/>
<path d="M319.90,130.17 L324.70,139.53 L315.10,139.53 Z" fill="none" stroke="#ffc000" stroke-width="1.35" stroke-linejoin="miter"/>
<rect x="315.10" y="168.99" width="9.60" height="9.60" fill="none" stroke="#4cb0f2" stroke-width="1.10"/>
<path d="M332.90,36.03 L337.90,41.03 L332.90,46.03 L327.90,41.03 Z" fill="none" stroke="#f97a32" stroke-width="1.15"/>
<circle cx="332.90" cy="98.75" r="5.10" fill="none" stroke="#ff0a36" stroke-width="1.35"/>
<path d="M332.90,128.73 L337.70,138.09 L328.10,138.09 Z" fill="none" stroke="#ffc000" stroke-width="1.35" stroke-linejoin="miter"/>
<rect x="328.10" y="168.27" width="9.60" height="9.60" fill="none" stroke="#4cb0f2" stroke-width="1.10"/>
<path d="M345.90,32.28 L350.90,37.28 L345.90,42.28 L340.90,37.28 Z" fill="none" stroke="#f97a32" stroke-width="1.15"/>
<circle cx="345.90" cy="96.45" r="5.10" fill="none" stroke="#ff0a36" stroke-width="1.35"/>
<path d="M345.90,127.43 L350.70,136.79 L341.10,136.79 Z" fill="none" stroke="#ffc000" stroke-width="1.35" stroke-linejoin="miter"/>
<rect x="341.10" y="167.69" width="9.60" height="9.60" fill="none" stroke="#4cb0f2" stroke-width="1.10"/>
<path d="M358.90,29.40 L363.90,34.40 L358.90,39.40 L353.90,34.40 Z" fill="none" stroke="#f97a32" stroke-width="1.15"/>
<circle cx="358.90" cy="94.14" r="5.10" fill="none" stroke="#ff0a36" stroke-width="1.35"/>
<path d="M358.90,126.71 L363.70,136.07 L354.10,136.07 Z" fill="none" stroke="#ffc000" stroke-width="1.35" stroke-linejoin="miter"/>
<rect x="354.10" y="167.55" width="9.60" height="9.60" fill="none" stroke="#4cb0f2" stroke-width="1.10"/>
<path d="M52.50,209.30 H364.10" fill="none" stroke="#7a3cf2" stroke-width="2.0" stroke-dasharray="9.6 9.2"/>
<path d="M53.50,258 V461.50 H370.88 M53.50,461.40 H57.50 M53.50,416.28 H57.50 M53.50,371.16 H57.50 M53.50,326.04 H57.50 M53.50,280.92 H57.50 M53.60,461.40 V457.90 M106.48,461.40 V457.90 M159.36,461.40 V457.90 M212.24,461.40 V457.90 M265.12,461.40 V457.90 M318.00,461.40 V457.90 M370.88,461.40 V457.90 " fill="none" stroke="#151515" stroke-width="1.3"/>
<path d="M61.53,367.41 V453.41 M59.93,367.41 H63.13 M59.93,453.41 H63.13" fill="none" stroke="#d6dde2" stroke-width="0.90"/>
<path d="M61.53,402.61 V414.61 M59.93,402.61 H63.13 M59.93,414.61 H63.13" fill="none" stroke="#d6dde2" stroke-width="0.90"/>
<path d="M61.53,414.78 V454.78 M59.93,414.78 H63.13 M59.93,454.78 H63.13" fill="none" stroke="#d6dde2" stroke-width="0.90"/>
<path d="M61.53,425.29 V430.29 M59.93,425.29 H63.13 M59.93,430.29 H63.13" fill="none" stroke="#d6dde2" stroke-width="0.90"/>
<path d="M61.53,384.34 V396.34 M59.93,384.34 H63.13 M59.93,396.34 H63.13" fill="none" stroke="#d6dde2" stroke-width="0.90"/>
<path d="M74.75,353.69 V429.69 M73.15,353.69 H76.35 M73.15,429.69 H76.35" fill="none" stroke="#d6dde2" stroke-width="0.90"/>
<path d="M74.75,359.52 V371.52 M73.15,359.52 H76.35 M73.15,371.52 H76.35" fill="none" stroke="#d6dde2" stroke-width="0.90"/>
<path d="M74.75,372.47 V396.47 M73.15,372.47 H76.35 M73.15,396.47 H76.35" fill="none" stroke="#d6dde2" stroke-width="0.90"/>
<path d="M74.75,411.07 V416.07 M73.15,411.07 H76.35 M73.15,416.07 H76.35" fill="none" stroke="#d6dde2" stroke-width="0.90"/>
<path d="M74.75,359.97 V371.97 M73.15,359.97 H76.35 M73.15,371.97 H76.35" fill="none" stroke="#d6dde2" stroke-width="0.90"/>
<path d="M87.97,343.09 V419.09 M86.37,343.09 H89.57 M86.37,419.09 H89.57" fill="none" stroke="#d6dde2" stroke-width="0.90"/>
<path d="M87.97,336.28 V348.28 M86.37,336.28 H89.57 M86.37,348.28 H89.57" fill="none" stroke="#d6dde2" stroke-width="0.90"/>
<path d="M87.97,343.37 V367.37 M86.37,343.37 H89.57 M86.37,367.37 H89.57" fill="none" stroke="#d6dde2" stroke-width="0.90"/>
<path d="M87.97,405.88 V410.88 M86.37,405.88 H89.57 M86.37,410.88 H89.57" fill="none" stroke="#d6dde2" stroke-width="0.90"/>
<path d="M87.97,348.01 V360.01 M86.37,348.01 H89.57 M86.37,360.01 H89.57" fill="none" stroke="#d6dde2" stroke-width="0.90"/>
<path d="M101.19,336.87 V410.87 M99.59,336.87 H102.79 M99.59,410.87 H102.79" fill="none" stroke="#d6dde2" stroke-width="0.90"/>
<path d="M101.19,322.52 V334.52 M99.59,322.52 H102.79 M99.59,334.52 H102.79" fill="none" stroke="#d6dde2" stroke-width="0.90"/>
<path d="M101.19,326.45 V350.45 M99.59,326.45 H102.79 M99.59,350.45 H102.79" fill="none" stroke="#d6dde2" stroke-width="0.90"/>
<path d="M101.19,402.95 V407.95 M99.59,402.95 H102.79 M99.59,407.95 H102.79" fill="none" stroke="#d6dde2" stroke-width="0.90"/>
<path d="M101.19,338.09 V350.09 M99.59,338.09 H102.79 M99.59,350.09 H102.79" fill="none" stroke="#d6dde2" stroke-width="0.90"/>
<path d="M114.41,335.10 V399.10 M112.81,335.10 H116.01 M112.81,399.10 H116.01" fill="none" stroke="#d6dde2" stroke-width="0.90"/>
<path d="M114.41,313.50 V325.50 M112.81,313.50 H116.01 M112.81,325.50 H116.01" fill="none" stroke="#d6dde2" stroke-width="0.90"/>
<path d="M114.41,317.42 V341.42 M112.81,317.42 H116.01 M112.81,341.42 H116.01" fill="none" stroke="#d6dde2" stroke-width="0.90"/>
<path d="M114.41,400.47 V405.47 M112.81,400.47 H116.01 M112.81,405.47 H116.01" fill="none" stroke="#d6dde2" stroke-width="0.90"/>
<path d="M114.41,331.32 V343.32 M112.81,331.32 H116.01 M112.81,343.32 H116.01" fill="none" stroke="#d6dde2" stroke-width="0.90"/>
<path d="M127.63,327.20 V391.20 M126.03,327.20 H129.23 M126.03,391.20 H129.23" fill="none" stroke="#d6dde2" stroke-width="0.90"/>
<path d="M127.63,308.53 V320.53 M126.03,308.53 H129.23 M126.03,320.53 H129.23" fill="none" stroke="#d6dde2" stroke-width="0.90"/>
<path d="M127.63,311.33 V335.33 M126.03,311.33 H129.23 M126.03,335.33 H129.23" fill="none" stroke="#d6dde2" stroke-width="0.90"/>
<path d="M127.63,397.09 V402.09 M126.03,397.09 H129.23 M126.03,402.09 H129.23" fill="none" stroke="#d6dde2" stroke-width="0.90"/>
<path d="M127.63,324.55 V336.55 M126.03,324.55 H129.23 M126.03,336.55 H129.23" fill="none" stroke="#d6dde2" stroke-width="0.90"/>
<path d="M140.85,322.92 V386.92 M139.25,322.92 H142.45 M139.25,386.92 H142.45" fill="none" stroke="#d6dde2" stroke-width="0.90"/>
<path d="M140.85,303.57 V315.57 M139.25,303.57 H142.45 M139.25,315.57 H142.45" fill="none" stroke="#d6dde2" stroke-width="0.90"/>
<path d="M140.85,307.05 V331.05 M139.25,307.05 H142.45 M139.25,331.05 H142.45" fill="none" stroke="#d6dde2" stroke-width="0.90"/>
<path d="M140.85,395.73 V400.73 M139.25,395.73 H142.45 M139.25,400.73 H142.45" fill="none" stroke="#d6dde2" stroke-width="0.90"/>
<path d="M140.85,318.69 V330.69 M139.25,318.69 H142.45 M139.25,330.69 H142.45" fill="none" stroke="#d6dde2" stroke-width="0.90"/>
<path d="M154.07,316.73 V382.73 M152.47,316.73 H155.67 M152.47,382.73 H155.67" fill="none" stroke="#d6dde2" stroke-width="0.90"/>
<path d="M154.07,299.06 V311.06 M152.47,299.06 H155.67 M152.47,311.06 H155.67" fill="none" stroke="#d6dde2" stroke-width="0.90"/>
<path d="M154.07,303.21 V327.21 M152.47,303.21 H155.67 M152.47,327.21 H155.67" fill="none" stroke="#d6dde2" stroke-width="0.90"/>
<path d="M154.07,395.28 V400.28 M152.47,395.28 H155.67 M152.47,400.28 H155.67" fill="none" stroke="#d6dde2" stroke-width="0.90"/>
<path d="M154.07,312.37 V324.37 M152.47,312.37 H155.67 M152.47,324.37 H155.67" fill="none" stroke="#d6dde2" stroke-width="0.90"/>
<path d="M167.29,311.99 V377.99 M165.69,311.99 H168.89 M165.69,377.99 H168.89" fill="none" stroke="#d6dde2" stroke-width="0.90"/>
<path d="M167.29,295.90 V307.90 M165.69,295.90 H168.89 M165.69,307.90 H168.89" fill="none" stroke="#d6dde2" stroke-width="0.90"/>
<path d="M167.29,301.41 V325.41 M165.69,301.41 H168.89 M165.69,325.41 H168.89" fill="none" stroke="#d6dde2" stroke-width="0.90"/>
<path d="M167.29,392.80 V397.80 M165.69,392.80 H168.89 M165.69,397.80 H168.89" fill="none" stroke="#d6dde2" stroke-width="0.90"/>
<path d="M167.29,307.41 V319.41 M165.69,307.41 H168.89 M165.69,319.41 H168.89" fill="none" stroke="#d6dde2" stroke-width="0.90"/>
<path d="M180.51,311.25 V369.25 M178.91,311.25 H182.11 M178.91,369.25 H182.11" fill="none" stroke="#d6dde2" stroke-width="0.90"/>
<path d="M180.51,294.10 V306.10 M178.91,294.10 H182.11 M178.91,306.10 H182.11" fill="none" stroke="#d6dde2" stroke-width="0.90"/>
<path d="M180.51,299.60 V323.60 M178.91,299.60 H182.11 M178.91,323.60 H182.11" fill="none" stroke="#d6dde2" stroke-width="0.90"/>
<path d="M180.51,392.80 V397.80 M178.91,392.80 H182.11 M178.91,397.80 H182.11" fill="none" stroke="#d6dde2" stroke-width="0.90"/>
<path d="M180.51,303.35 V315.35 M178.91,303.35 H182.11 M178.91,315.35 H182.11" fill="none" stroke="#d6dde2" stroke-width="0.90"/>
<path d="M193.73,308.87 V364.87 M192.13,308.87 H195.33 M192.13,364.87 H195.33" fill="none" stroke="#d6dde2" stroke-width="0.90"/>
<path d="M193.73,292.07 V304.07 M192.13,292.07 H195.33 M192.13,304.07 H195.33" fill="none" stroke="#d6dde2" stroke-width="0.90"/>
<path d="M193.73,298.92 V322.92 M192.13,298.92 H195.33 M192.13,322.92 H195.33" fill="none" stroke="#d6dde2" stroke-width="0.90"/>
<path d="M193.73,390.54 V395.54 M192.13,390.54 H195.33 M192.13,395.54 H195.33" fill="none" stroke="#d6dde2" stroke-width="0.90"/>
<path d="M193.73,299.28 V311.28 M192.13,299.28 H195.33 M192.13,311.28 H195.33" fill="none" stroke="#d6dde2" stroke-width="0.90"/>
<path d="M206.95,306.48 V360.48 M205.35,306.48 H208.55 M205.35,360.48 H208.55" fill="none" stroke="#d6dde2" stroke-width="0.90"/>
<path d="M206.95,288.91 V300.91 M205.35,288.91 H208.55 M205.35,300.91 H208.55" fill="none" stroke="#d6dde2" stroke-width="0.90"/>
<path d="M206.95,297.57 V321.57 M205.35,297.57 H208.55 M205.35,321.57 H208.55" fill="none" stroke="#d6dde2" stroke-width="0.90"/>
<path d="M206.95,390.54 V395.54 M205.35,390.54 H208.55 M205.35,395.54 H208.55" fill="none" stroke="#d6dde2" stroke-width="0.90"/>
<path d="M206.95,295.45 V307.45 M205.35,295.45 H208.55 M205.35,307.45 H208.55" fill="none" stroke="#d6dde2" stroke-width="0.90"/>
<path d="M220.17,303.78 V357.78 M218.57,303.78 H221.77 M218.57,357.78 H221.77" fill="none" stroke="#d6dde2" stroke-width="0.90"/>
<path d="M220.17,286.88 V298.88 M218.57,286.88 H221.77 M218.57,298.88 H221.77" fill="none" stroke="#d6dde2" stroke-width="0.90"/>
<path d="M220.17,296.89 V320.89 M218.57,296.89 H221.77 M218.57,320.89 H221.77" fill="none" stroke="#d6dde2" stroke-width="0.90"/>
<path d="M220.17,388.29 V393.29 M218.57,388.29 H221.77 M218.57,393.29 H221.77" fill="none" stroke="#d6dde2" stroke-width="0.90"/>
<path d="M220.17,291.39 V303.39 M218.57,291.39 H221.77 M218.57,303.39 H221.77" fill="none" stroke="#d6dde2" stroke-width="0.90"/>
<path d="M233.39,299.27 V353.27 M231.79,299.27 H234.99 M231.79,353.27 H234.99" fill="none" stroke="#d6dde2" stroke-width="0.90"/>
<path d="M233.39,284.62 V296.62 M231.79,284.62 H234.99 M231.79,296.62 H234.99" fill="none" stroke="#d6dde2" stroke-width="0.90"/>
<path d="M233.39,295.54 V319.54 M231.79,295.54 H234.99 M231.79,319.54 H234.99" fill="none" stroke="#d6dde2" stroke-width="0.90"/>
<path d="M233.39,388.29 V393.29 M231.79,388.29 H234.99 M231.79,393.29 H234.99" fill="none" stroke="#d6dde2" stroke-width="0.90"/>
<path d="M233.39,289.36 V301.36 M231.79,289.36 H234.99 M231.79,301.36 H234.99" fill="none" stroke="#d6dde2" stroke-width="0.90"/>
<path d="M246.61,296.78 V350.78 M245.01,296.78 H248.21 M245.01,350.78 H248.21" fill="none" stroke="#d6dde2" stroke-width="0.90"/>
<path d="M246.61,282.14 V294.14 M245.01,282.14 H248.21 M245.01,294.14 H248.21" fill="none" stroke="#d6dde2" stroke-width="0.90"/>
<path d="M246.61,295.09 V319.09 M245.01,295.09 H248.21 M245.01,319.09 H248.21" fill="none" stroke="#d6dde2" stroke-width="0.90"/>
<path d="M246.61,387.38 V392.38 M245.01,387.38 H248.21 M245.01,392.38 H248.21" fill="none" stroke="#d6dde2" stroke-width="0.90"/>
<path d="M246.61,281.30 V301.30 M245.01,281.30 H248.21 M245.01,301.30 H248.21" fill="none" stroke="#d6dde2" stroke-width="0.90"/>
<path d="M259.83,294.63 V346.63 M258.23,294.63 H261.43 M258.23,346.63 H261.43" fill="none" stroke="#d6dde2" stroke-width="0.90"/>
<path d="M259.83,280.11 V292.11 M258.23,280.11 H261.43 M258.23,292.11 H261.43" fill="none" stroke="#d6dde2" stroke-width="0.90"/>
<path d="M259.83,294.41 V318.41 M258.23,294.41 H261.43 M258.23,318.41 H261.43" fill="none" stroke="#d6dde2" stroke-width="0.90"/>
<path d="M259.83,386.71 V391.71 M258.23,386.71 H261.43 M258.23,391.71 H261.43" fill="none" stroke="#d6dde2" stroke-width="0.90"/>
<path d="M259.83,277.91 V297.91 M258.23,277.91 H261.43 M258.23,297.91 H261.43" fill="none" stroke="#d6dde2" stroke-width="0.90"/>
<path d="M273.05,290.69 V344.69 M271.45,290.69 H274.65 M271.45,344.69 H274.65" fill="none" stroke="#d6dde2" stroke-width="0.90"/>
<path d="M273.05,278.98 V290.98 M271.45,278.98 H274.65 M271.45,290.98 H274.65" fill="none" stroke="#d6dde2" stroke-width="0.90"/>
<path d="M273.05,293.96 V317.96 M271.45,293.96 H274.65 M271.45,317.96 H274.65" fill="none" stroke="#d6dde2" stroke-width="0.90"/>
<path d="M273.05,386.71 V391.71 M271.45,386.71 H274.65 M271.45,391.71 H274.65" fill="none" stroke="#d6dde2" stroke-width="0.90"/>
<path d="M273.05,275.21 V295.21 M271.45,275.21 H274.65 M271.45,295.21 H274.65" fill="none" stroke="#d6dde2" stroke-width="0.90"/>
<path d="M286.27,288.44 V342.44 M284.67,288.44 H287.87 M284.67,342.44 H287.87" fill="none" stroke="#d6dde2" stroke-width="0.90"/>
<path d="M286.27,277.63 V289.63 M284.67,277.63 H287.87 M284.67,289.63 H287.87" fill="none" stroke="#d6dde2" stroke-width="0.90"/>
<path d="M286.27,293.74 V317.74 M284.67,293.74 H287.87 M284.67,317.74 H287.87" fill="none" stroke="#d6dde2" stroke-width="0.90"/>
<path d="M286.27,385.58 V390.58 M284.67,385.58 H287.87 M284.67,390.58 H287.87" fill="none" stroke="#d6dde2" stroke-width="0.90"/>
<path d="M286.27,271.82 V291.82 M284.67,271.82 H287.87 M284.67,291.82 H287.87" fill="none" stroke="#d6dde2" stroke-width="0.90"/>
<path d="M299.49,285.18 V341.18 M297.89,285.18 H301.09 M297.89,341.18 H301.09" fill="none" stroke="#d6dde2" stroke-width="0.90"/>
<path d="M299.49,276.05 V288.05 M297.89,276.05 H301.09 M297.89,288.05 H301.09" fill="none" stroke="#d6dde2" stroke-width="0.90"/>
<path d="M299.49,293.96 V317.96 M297.89,293.96 H301.09 M297.89,317.96 H301.09" fill="none" stroke="#d6dde2" stroke-width="0.90"/>
<path d="M299.49,384.90 V389.90 M297.89,384.90 H301.09 M297.89,389.90 H301.09" fill="none" stroke="#d6dde2" stroke-width="0.90"/>
<path d="M299.49,268.66 V288.66 M297.89,268.66 H301.09 M297.89,288.66 H301.09" fill="none" stroke="#d6dde2" stroke-width="0.90"/>
<path d="M312.71,282.38 V340.38 M311.11,282.38 H314.31 M311.11,340.38 H314.31" fill="none" stroke="#d6dde2" stroke-width="0.90"/>
<path d="M312.71,274.47 V286.47 M311.11,274.47 H314.31 M311.11,286.47 H314.31" fill="none" stroke="#d6dde2" stroke-width="0.90"/>
<path d="M312.71,293.51 V317.51 M311.11,293.51 H314.31 M311.11,317.51 H314.31" fill="none" stroke="#d6dde2" stroke-width="0.90"/>
<path d="M312.71,384.90 V389.90 M311.11,384.90 H314.31 M311.11,389.90 H314.31" fill="none" stroke="#d6dde2" stroke-width="0.90"/>
<path d="M312.71,266.41 V286.41 M311.11,266.41 H314.31 M311.11,286.41 H314.31" fill="none" stroke="#d6dde2" stroke-width="0.90"/>
<path d="M325.93,280.57 V338.57 M324.33,280.57 H327.53 M324.33,338.57 H327.53" fill="none" stroke="#d6dde2" stroke-width="0.90"/>
<path d="M325.93,271.99 V283.99 M324.33,271.99 H327.53 M324.33,283.99 H327.53" fill="none" stroke="#d6dde2" stroke-width="0.90"/>
<path d="M325.93,293.28 V317.28 M324.33,293.28 H327.53 M324.33,317.28 H327.53" fill="none" stroke="#d6dde2" stroke-width="0.90"/>
<path d="M325.93,383.10 V388.10 M324.33,383.10 H327.53 M324.33,388.10 H327.53" fill="none" stroke="#d6dde2" stroke-width="0.90"/>
<path d="M325.93,264.60 V284.60 M324.33,264.60 H327.53 M324.33,284.60 H327.53" fill="none" stroke="#d6dde2" stroke-width="0.90"/>
<path d="M339.15,277.86 V335.86 M337.55,277.86 H340.75 M337.55,335.86 H340.75" fill="none" stroke="#d6dde2" stroke-width="0.90"/>
<path d="M339.15,270.41 V282.41 M337.55,270.41 H340.75 M337.55,282.41 H340.75" fill="none" stroke="#d6dde2" stroke-width="0.90"/>
<path d="M339.15,293.28 V317.28 M337.55,293.28 H340.75 M337.55,317.28 H340.75" fill="none" stroke="#d6dde2" stroke-width="0.90"/>
<path d="M339.15,383.10 V388.10 M337.55,383.10 H340.75 M337.55,388.10 H340.75" fill="none" stroke="#d6dde2" stroke-width="0.90"/>
<path d="M339.15,262.57 V282.57 M337.55,262.57 H340.75 M337.55,282.57 H340.75" fill="none" stroke="#d6dde2" stroke-width="0.90"/>
<path d="M352.37,274.38 V334.38 M350.77,274.38 H353.97 M350.77,334.38 H353.97" fill="none" stroke="#d6dde2" stroke-width="0.90"/>
<path d="M352.37,269.28 V281.28 M350.77,269.28 H353.97 M350.77,281.28 H353.97" fill="none" stroke="#d6dde2" stroke-width="0.90"/>
<path d="M352.37,293.06 V317.06 M350.77,293.06 H353.97 M350.77,317.06 H353.97" fill="none" stroke="#d6dde2" stroke-width="0.90"/>
<path d="M352.37,383.10 V388.10 M350.77,383.10 H353.97 M350.77,388.10 H353.97" fill="none" stroke="#d6dde2" stroke-width="0.90"/>
<path d="M352.37,260.99 V280.99 M350.77,260.99 H353.97 M350.77,280.99 H353.97" fill="none" stroke="#d6dde2" stroke-width="0.90"/>
<path d="M365.59,272.13 V332.13 M363.99,272.13 H367.19 M363.99,332.13 H367.19" fill="none" stroke="#d6dde2" stroke-width="0.90"/>
<path d="M365.59,268.15 V280.15 M363.99,268.15 H367.19 M363.99,280.15 H367.19" fill="none" stroke="#d6dde2" stroke-width="0.90"/>
<path d="M365.59,292.83 V316.83 M363.99,292.83 H367.19 M363.99,316.83 H367.19" fill="none" stroke="#d6dde2" stroke-width="0.90"/>
<path d="M365.59,381.52 V386.52 M363.99,381.52 H367.19 M363.99,386.52 H367.19" fill="none" stroke="#d6dde2" stroke-width="0.90"/>
<path d="M365.59,259.87 V279.87 M363.99,259.87 H367.19 M363.99,279.87 H367.19" fill="none" stroke="#d6dde2" stroke-width="0.90"/>
<path d="M53.71,446.86 L53.79,443.82 L53.88,441.62 L53.97,439.86 L54.06,438.36 L54.14,437.06 L54.23,435.89 L54.32,434.83 L54.41,433.85 L54.50,432.95 L54.58,432.10 L54.67,431.30 L54.76,430.55 L54.85,429.84 L54.94,429.16 L55.02,428.51 L55.11,427.89 L55.20,427.30 L55.29,426.72 L55.37,426.17 L55.46,425.63 L55.55,425.12 L55.64,424.61 L55.73,424.13 L55.81,423.65 L55.90,423.19 L55.99,422.75 L56.08,422.31 L56.17,421.88 L56.25,421.47 L56.34,421.06 L56.43,420.66 L56.52,420.27 L56.60,419.89 L56.69,419.52 L56.78,419.16 L56.87,418.80 L56.96,418.44 L57.04,418.10 L57.13,417.76 L57.22,417.43 L57.31,417.10 L57.39,416.78 L57.48,416.46 L57.57,416.15 L57.66,415.84 L57.75,415.54 L57.83,415.24 L57.92,414.94 L58.01,414.65 L58.10,414.37 L58.19,414.09 L58.27,413.81 L58.36,413.53 L58.45,413.26 L58.54,413.00 L58.62,412.73 L58.71,412.47 L58.80,412.21 L58.89,411.96 L60.46,407.85 L62.02,404.36 L63.59,401.32 L65.16,398.60 L66.73,396.14 L68.29,393.88 L69.86,391.80 L71.43,389.85 L73.00,388.03 L74.57,386.32 L76.13,384.70 L77.70,383.16 L79.27,381.70 L80.84,380.30 L82.40,378.97 L83.97,377.68 L85.54,376.45 L87.11,375.26 L88.68,374.12 L90.24,373.01 L91.81,371.95 L93.38,370.91 L94.95,369.91 L96.52,368.93 L98.08,367.99 L99.65,367.07 L101.22,366.17 L102.79,365.30 L104.35,364.45 L105.92,363.63 L107.49,362.82 L109.06,362.03 L110.63,361.26 L112.19,360.50 L113.76,359.77 L115.33,359.05 L116.90,358.34 L118.46,357.65 L120.03,356.97 L121.60,356.31 L123.17,355.65 L124.74,355.01 L126.30,354.39 L127.87,353.77 L129.44,353.17 L131.01,352.57 L132.57,351.99 L134.14,351.41 L135.71,350.85 L137.28,350.29 L138.85,349.75 L140.41,349.21 L141.98,348.68 L143.55,348.16 L145.12,347.65 L146.68,347.15 L148.25,346.65 L149.82,346.16 L151.39,345.68 L152.96,345.20 L154.52,344.73 L156.09,344.27 L157.66,343.82 L159.23,343.37 L160.79,342.92 L162.36,342.49 L163.93,342.05 L165.50,341.63 L167.07,341.21 L168.63,340.79 L170.20,340.38 L171.77,339.98 L173.34,339.58 L174.91,339.19 L176.47,338.80 L178.04,338.41 L179.61,338.03 L181.18,337.66 L182.74,337.28 L184.31,336.92 L185.88,336.55 L187.45,336.20 L189.02,335.84 L190.58,335.49 L192.15,335.15 L193.72,334.80 L195.29,334.46 L196.85,334.13 L198.42,333.80 L199.99,333.47 L201.56,333.15 L203.13,332.83 L204.69,332.51 L206.26,332.20 L207.83,331.88 L209.40,331.58 L210.96,331.27 L212.53,330.97 L214.10,330.67 L215.67,330.38 L217.24,330.09 L218.80,329.80 L220.37,329.51 L221.94,329.23 L223.51,328.95 L225.07,328.67 L226.64,328.39 L228.21,328.12 L229.78,327.85 L231.35,327.59 L232.91,327.32 L234.48,327.06 L236.05,326.80 L237.62,326.54 L239.18,326.29 L240.75,326.03 L242.32,325.78 L243.89,325.54 L245.46,325.29 L247.02,325.05 L248.59,324.81 L250.16,324.57 L251.73,324.33 L253.30,324.09 L254.86,323.86 L256.43,323.63 L258.00,323.40 L259.57,323.18 L261.13,322.95 L262.70,322.73 L264.27,322.51 L265.84,322.29 L267.41,322.07 L268.97,321.86 L270.54,321.64 L272.11,321.43 L273.68,321.22 L275.24,321.02 L276.81,320.81 L278.38,320.61 L279.95,320.40 L281.52,320.20 L283.08,320.00 L284.65,319.80 L286.22,319.61 L287.79,319.41 L289.35,319.22 L290.92,319.03 L292.49,318.84 L294.06,318.65 L295.63,318.47 L297.19,318.28 L298.76,318.10 L300.33,317.92 L301.90,317.74 L303.46,317.56 L305.03,317.38 L306.60,317.20 L308.17,317.03 L309.74,316.85 L311.30,316.68 L312.87,316.51 L314.44,316.34 L316.01,316.17 L317.57,316.01 L319.14,315.84 L320.71,315.68 L322.28,315.52 L323.85,315.35 L325.41,315.19 L326.98,315.03 L328.55,314.88 L330.12,314.72 L331.69,314.56 L333.25,314.41 L334.82,314.26 L336.39,314.11 L337.96,313.95 L339.52,313.80 L341.09,313.66 L342.66,313.51 L344.23,313.36 L345.80,313.22 L347.36,313.07 L348.93,312.93 L350.50,312.79 L352.07,312.65 L353.63,312.51 L355.20,312.37 L356.77,312.23 L358.34,312.10 L359.91,311.96 L361.47,311.83 L363.04,311.69 L364.61,311.56 L366.18,311.43 L367.74,311.30 L369.31,311.17 L370.88,311.04" fill="none" stroke="#f97a32" stroke-width="1.40" stroke-linejoin="round"/>
<path d="M53.71,437.60 L53.79,433.39 L53.88,430.43 L53.97,428.08 L54.06,426.12 L54.14,424.41 L54.23,422.90 L54.32,421.53 L54.41,420.28 L54.50,419.13 L54.58,418.05 L54.67,417.05 L54.76,416.10 L54.85,415.20 L54.94,414.35 L55.02,413.54 L55.11,412.77 L55.20,412.03 L55.29,411.31 L55.37,410.63 L55.46,409.97 L55.55,409.33 L55.64,408.71 L55.73,408.11 L55.81,407.53 L55.90,406.97 L55.99,406.42 L56.08,405.88 L56.17,405.36 L56.25,404.86 L56.34,404.36 L56.43,403.88 L56.52,403.41 L56.60,402.95 L56.69,402.49 L56.78,402.05 L56.87,401.62 L56.96,401.19 L57.04,400.78 L57.13,400.37 L57.22,399.96 L57.31,399.57 L57.39,399.18 L57.48,398.80 L57.57,398.43 L57.66,398.06 L57.75,397.69 L57.83,397.34 L57.92,396.99 L58.01,396.64 L58.10,396.30 L58.19,395.96 L58.27,395.63 L58.36,395.30 L58.45,394.98 L58.54,394.66 L58.62,394.35 L58.71,394.04 L58.80,393.73 L58.89,393.43 L60.46,388.56 L62.02,384.47 L63.59,380.91 L65.16,377.75 L66.73,374.89 L68.29,372.29 L69.86,369.88 L71.43,367.64 L73.00,365.55 L74.57,363.58 L76.13,361.72 L77.70,359.95 L79.27,358.27 L80.84,356.67 L82.40,355.14 L83.97,353.67 L85.54,352.26 L87.11,350.90 L88.68,349.59 L90.24,348.32 L91.81,347.09 L93.38,345.91 L94.95,344.75 L96.52,343.64 L98.08,342.55 L99.65,341.49 L101.22,340.47 L102.79,339.46 L104.35,338.49 L105.92,337.53 L107.49,336.60 L109.06,335.69 L110.63,334.80 L112.19,333.93 L113.76,333.08 L115.33,332.24 L116.90,331.42 L118.46,330.62 L120.03,329.84 L121.60,329.06 L123.17,328.31 L124.74,327.56 L126.30,326.83 L127.87,326.11 L129.44,325.41 L131.01,324.71 L132.57,324.03 L134.14,323.36 L135.71,322.69 L137.28,322.04 L138.85,321.40 L140.41,320.77 L141.98,320.15 L143.55,319.53 L145.12,318.93 L146.68,318.33 L148.25,317.75 L149.82,317.17 L151.39,316.59 L152.96,316.03 L154.52,315.47 L156.09,314.92 L157.66,314.38 L159.23,313.84 L160.79,313.31 L162.36,312.79 L163.93,312.27 L165.50,311.76 L167.07,311.26 L168.63,310.76 L170.20,310.26 L171.77,309.78 L173.34,309.29 L174.91,308.82 L176.47,308.34 L178.04,307.88 L179.61,307.42 L181.18,306.96 L182.74,306.51 L184.31,306.06 L185.88,305.62 L187.45,305.18 L189.02,304.74 L190.58,304.32 L192.15,303.89 L193.72,303.47 L195.29,303.05 L196.85,302.64 L198.42,302.23 L199.99,301.82 L201.56,301.42 L203.13,301.02 L204.69,300.63 L206.26,300.24 L207.83,299.85 L209.40,299.47 L210.96,299.09 L212.53,298.71 L214.10,298.34 L215.67,297.97 L217.24,297.60 L218.80,297.23 L220.37,296.87 L221.94,296.51 L223.51,296.16 L225.07,295.81 L226.64,295.46 L228.21,295.11 L229.78,294.77 L231.35,294.42 L232.91,294.09 L234.48,293.75 L236.05,293.42 L237.62,293.09 L239.18,292.76 L240.75,292.43 L242.32,292.11 L243.89,291.79 L245.46,291.47 L247.02,291.15 L248.59,290.84 L250.16,290.53 L251.73,290.22 L253.30,289.91 L254.86,289.61 L256.43,289.30 L258.00,289.00 L259.57,288.70 L261.13,288.41 L262.70,288.11 L264.27,287.82 L265.84,287.53 L267.41,287.24 L268.97,286.96 L270.54,286.67 L272.11,286.39 L273.68,286.11 L275.24,285.83 L276.81,285.55 L278.38,285.28 L279.95,285.01 L281.52,284.73 L283.08,284.46 L284.65,284.20 L286.22,283.93 L287.79,283.66 L289.35,283.40 L290.92,283.14 L292.49,282.88 L294.06,282.62 L295.63,282.37 L297.19,282.11 L298.76,281.86 L300.33,281.61 L301.90,281.36 L303.46,281.11 L305.03,280.86 L306.60,280.61 L308.17,280.37 L309.74,280.13 L311.30,279.89 L312.87,279.65 L314.44,279.41 L316.01,279.17 L317.57,278.93 L319.14,278.70 L320.71,278.47 L322.28,278.23 L323.85,278.00 L325.41,277.77 L326.98,277.55 L328.55,277.32 L330.12,277.09 L331.69,276.87 L333.25,276.65 L334.82,276.42 L336.39,276.20 L337.96,275.98 L339.52,275.77 L341.09,275.55 L342.66,275.33 L344.23,275.12 L345.80,274.91 L347.36,274.69 L348.93,274.48 L350.50,274.27 L352.07,274.06 L353.63,273.86 L355.20,273.65 L356.77,273.44 L358.34,273.24 L359.91,273.03 L361.47,272.83 L363.04,272.63 L364.61,272.43 L366.18,272.23 L367.74,272.03 L369.31,271.83 L370.88,271.64" fill="none" stroke="#ff0a36" stroke-width="1.40" stroke-linejoin="round"/>
<path d="M53.71,435.44 L53.79,431.01 L53.88,427.90 L53.97,425.44 L54.06,423.38 L54.14,421.60 L54.23,420.02 L54.32,418.60 L54.41,417.30 L54.50,416.10 L54.58,414.98 L54.67,413.94 L54.76,412.96 L54.85,412.03 L54.94,411.15 L55.02,410.31 L55.11,409.51 L55.20,408.74 L55.29,408.00 L55.37,407.29 L55.46,406.61 L55.55,405.95 L55.64,405.31 L55.73,404.70 L55.81,404.10 L55.90,403.52 L55.99,402.95 L56.08,402.40 L56.17,401.86 L56.25,401.34 L56.34,400.83 L56.43,400.34 L56.52,399.85 L56.60,399.37 L56.69,398.91 L56.78,398.45 L56.87,398.01 L56.96,397.57 L57.04,397.14 L57.13,396.72 L57.22,396.31 L57.31,395.91 L57.39,395.51 L57.48,395.12 L57.57,394.73 L57.66,394.35 L57.75,393.98 L57.83,393.61 L57.92,393.25 L58.01,392.90 L58.10,392.55 L58.19,392.20 L58.27,391.86 L58.36,391.53 L58.45,391.20 L58.54,390.87 L58.62,390.55 L58.71,390.23 L58.80,389.92 L58.89,389.61 L60.46,384.63 L62.02,380.46 L63.59,376.83 L65.16,373.61 L66.73,370.71 L68.29,368.06 L69.86,365.61 L71.43,363.34 L73.00,361.22 L74.57,359.23 L76.13,357.35 L77.70,355.56 L79.27,353.87 L80.84,352.25 L82.40,350.70 L83.97,349.22 L85.54,347.80 L87.11,346.43 L88.68,345.10 L90.24,343.83 L91.81,342.59 L93.38,341.40 L94.95,340.24 L96.52,339.12 L98.08,338.03 L99.65,336.97 L101.22,335.93 L102.79,334.93 L104.35,333.94 L105.92,332.99 L107.49,332.05 L109.06,331.14 L110.63,330.25 L112.19,329.37 L113.76,328.52 L115.33,327.68 L116.90,326.86 L118.46,326.06 L120.03,325.27 L121.60,324.50 L123.17,323.74 L124.74,323.00 L126.30,322.27 L127.87,321.55 L129.44,320.84 L131.01,320.15 L132.57,319.47 L134.14,318.80 L135.71,318.13 L137.28,317.48 L138.85,316.84 L140.41,316.21 L141.98,315.59 L143.55,314.98 L145.12,314.38 L146.68,313.78 L148.25,313.20 L149.82,312.62 L151.39,312.05 L152.96,311.49 L154.52,310.93 L156.09,310.38 L157.66,309.84 L159.23,309.31 L160.79,308.78 L162.36,308.26 L163.93,307.74 L165.50,307.24 L167.07,306.73 L168.63,306.24 L170.20,305.75 L171.77,305.26 L173.34,304.78 L174.91,304.31 L176.47,303.84 L178.04,303.38 L179.61,302.92 L181.18,302.46 L182.74,302.01 L184.31,301.57 L185.88,301.13 L187.45,300.70 L189.02,300.26 L190.58,299.84 L192.15,299.42 L193.72,299.00 L195.29,298.58 L196.85,298.17 L198.42,297.77 L199.99,297.37 L201.56,296.97 L203.13,296.57 L204.69,296.18 L206.26,295.80 L207.83,295.41 L209.40,295.03 L210.96,294.66 L212.53,294.28 L214.10,293.91 L215.67,293.54 L217.24,293.18 L218.80,292.82 L220.37,292.46 L221.94,292.11 L223.51,291.76 L225.07,291.41 L226.64,291.06 L228.21,290.72 L229.78,290.38 L231.35,290.04 L232.91,289.71 L234.48,289.38 L236.05,289.05 L237.62,288.72 L239.18,288.39 L240.75,288.07 L242.32,287.75 L243.89,287.44 L245.46,287.12 L247.02,286.81 L248.59,286.50 L250.16,286.19 L251.73,285.89 L253.30,285.58 L254.86,285.28 L256.43,284.99 L258.00,284.69 L259.57,284.39 L261.13,284.10 L262.70,283.81 L264.27,283.52 L265.84,283.24 L267.41,282.95 L268.97,282.67 L270.54,282.39 L272.11,282.11 L273.68,281.84 L275.24,281.56 L276.81,281.29 L278.38,281.02 L279.95,280.75 L281.52,280.48 L283.08,280.22 L284.65,279.95 L286.22,279.69 L287.79,279.43 L289.35,279.17 L290.92,278.92 L292.49,278.66 L294.06,278.41 L295.63,278.15 L297.19,277.90 L298.76,277.65 L300.33,277.41 L301.90,277.16 L303.46,276.92 L305.03,276.67 L306.60,276.43 L308.17,276.19 L309.74,275.95 L311.30,275.72 L312.87,275.48 L314.44,275.25 L316.01,275.01 L317.57,274.78 L319.14,274.55 L320.71,274.32 L322.28,274.09 L323.85,273.87 L325.41,273.64 L326.98,273.42 L328.55,273.20 L330.12,272.98 L331.69,272.76 L333.25,272.54 L334.82,272.32 L336.39,272.10 L337.96,271.89 L339.52,271.68 L341.09,271.46 L342.66,271.25 L344.23,271.04 L345.80,270.83 L347.36,270.63 L348.93,270.42 L350.50,270.21 L352.07,270.01 L353.63,269.80 L355.20,269.60 L356.77,269.40 L358.34,269.20 L359.91,269.00 L361.47,268.80 L363.04,268.61 L364.61,268.41 L366.18,268.22 L367.74,268.02 L369.31,267.83 L370.88,267.64" fill="none" stroke="#ffc000" stroke-width="1.40" stroke-linejoin="round"/>
<path d="M53.71,438.84 L53.79,434.89 L53.88,432.12 L53.97,429.92 L54.06,428.08 L54.14,426.49 L54.23,425.07 L54.32,423.80 L54.41,422.63 L54.50,421.55 L54.58,420.55 L54.67,419.61 L54.76,418.73 L54.85,417.90 L54.94,417.10 L55.02,416.35 L55.11,415.63 L55.20,414.94 L55.29,414.27 L55.37,413.64 L55.46,413.02 L55.55,412.43 L55.64,411.85 L55.73,411.30 L55.81,410.76 L55.90,410.23 L55.99,409.72 L56.08,409.23 L56.17,408.74 L56.25,408.27 L56.34,407.81 L56.43,407.37 L56.52,406.93 L56.60,406.50 L56.69,406.08 L56.78,405.67 L56.87,405.27 L56.96,404.87 L57.04,404.49 L57.13,404.11 L57.22,403.73 L57.31,403.37 L57.39,403.01 L57.48,402.66 L57.57,402.31 L57.66,401.97 L57.75,401.63 L57.83,401.30 L57.92,400.97 L58.01,400.65 L58.10,400.34 L58.19,400.02 L58.27,399.72 L58.36,399.41 L58.45,399.12 L58.54,398.82 L58.62,398.53 L58.71,398.24 L58.80,397.96 L58.89,397.68 L60.46,393.19 L62.02,389.41 L63.59,386.13 L65.16,383.22 L66.73,380.60 L68.29,378.21 L69.86,376.00 L71.43,373.95 L73.00,372.04 L74.57,370.24 L76.13,368.55 L77.70,366.94 L79.27,365.41 L80.84,363.96 L82.40,362.57 L83.97,361.23 L85.54,359.95 L87.11,358.72 L88.68,357.53 L90.24,356.39 L91.81,355.28 L93.38,354.21 L94.95,353.18 L96.52,352.17 L98.08,351.19 L99.65,350.24 L101.22,349.32 L102.79,348.42 L104.35,347.54 L105.92,346.69 L107.49,345.86 L109.06,345.04 L110.63,344.25 L112.19,343.47 L113.76,342.71 L115.33,341.97 L116.90,341.24 L118.46,340.52 L120.03,339.83 L121.60,339.14 L123.17,338.47 L124.74,337.81 L126.30,337.16 L127.87,336.53 L129.44,335.90 L131.01,335.29 L132.57,334.68 L134.14,334.09 L135.71,333.51 L137.28,332.93 L138.85,332.37 L140.41,331.81 L141.98,331.27 L143.55,330.73 L145.12,330.20 L146.68,329.68 L148.25,329.16 L149.82,328.65 L151.39,328.15 L152.96,327.66 L154.52,327.17 L156.09,326.69 L157.66,326.22 L159.23,325.75 L160.79,325.29 L162.36,324.84 L163.93,324.39 L165.50,323.95 L167.07,323.51 L168.63,323.07 L170.20,322.65 L171.77,322.23 L173.34,321.81 L174.91,321.40 L176.47,320.99 L178.04,320.59 L179.61,320.19 L181.18,319.80 L182.74,319.41 L184.31,319.02 L185.88,318.64 L187.45,318.27 L189.02,317.89 L190.58,317.52 L192.15,317.16 L193.72,316.80 L195.29,316.44 L196.85,316.09 L198.42,315.74 L199.99,315.40 L201.56,315.05 L203.13,314.71 L204.69,314.38 L206.26,314.05 L207.83,313.72 L209.40,313.39 L210.96,313.07 L212.53,312.75 L214.10,312.43 L215.67,312.12 L217.24,311.81 L218.80,311.50 L220.37,311.19 L221.94,310.89 L223.51,310.59 L225.07,310.30 L226.64,310.00 L228.21,309.71 L229.78,309.42 L231.35,309.13 L232.91,308.85 L234.48,308.57 L236.05,308.29 L237.62,308.01 L239.18,307.74 L240.75,307.47 L242.32,307.20 L243.89,306.93 L245.46,306.66 L247.02,306.40 L248.59,306.14 L250.16,305.88 L251.73,305.62 L253.30,305.37 L254.86,305.12 L256.43,304.87 L258.00,304.62 L259.57,304.37 L261.13,304.13 L262.70,303.88 L264.27,303.64 L265.84,303.40 L267.41,303.16 L268.97,302.93 L270.54,302.69 L272.11,302.46 L273.68,302.23 L275.24,302.00 L276.81,301.78 L278.38,301.55 L279.95,301.33 L281.52,301.11 L283.08,300.89 L284.65,300.67 L286.22,300.45 L287.79,300.23 L289.35,300.02 L290.92,299.81 L292.49,299.60 L294.06,299.39 L295.63,299.18 L297.19,298.97 L298.76,298.77 L300.33,298.56 L301.90,298.36 L303.46,298.16 L305.03,297.96 L306.60,297.76 L308.17,297.57 L309.74,297.37 L311.30,297.18 L312.87,296.98 L314.44,296.79 L316.01,296.60 L317.57,296.41 L319.14,296.22 L320.71,296.04 L322.28,295.85 L323.85,295.67 L325.41,295.49 L326.98,295.30 L328.55,295.12 L330.12,294.94 L331.69,294.77 L333.25,294.59 L334.82,294.41 L336.39,294.24 L337.96,294.06 L339.52,293.89 L341.09,293.72 L342.66,293.55 L344.23,293.38 L345.80,293.21 L347.36,293.04 L348.93,292.88 L350.50,292.71 L352.07,292.55 L353.63,292.39 L355.20,292.22 L356.77,292.06 L358.34,291.90 L359.91,291.74 L361.47,291.59 L363.04,291.43 L364.61,291.27 L366.18,291.12 L367.74,290.96 L369.31,290.81 L370.88,290.66" fill="none" stroke="#2f9bf0" stroke-width="1.40" stroke-linejoin="round"/>
<path d="M53.60,461.40 L53.69,449.44 L53.78,447.41 L53.87,446.07 L53.96,445.04 L54.05,444.19 L54.14,443.47 L54.23,442.83 L54.32,442.26 L54.41,441.74 L54.50,441.27 L54.59,440.83 L54.68,440.42 L54.77,440.04 L54.85,439.67 L54.94,439.33 L55.03,439.01 L55.12,438.70 L55.21,438.40 L55.30,438.12 L55.39,437.84 L55.48,437.58 L55.57,437.33 L55.66,437.08 L55.75,436.85 L55.84,436.62 L55.93,436.40 L56.02,436.18 L56.11,435.97 L56.20,435.77 L56.29,435.57 L56.38,435.38 L56.47,435.19 L56.56,435.00 L56.65,434.82 L56.74,434.65 L56.83,434.48 L56.92,434.31 L57.01,434.14 L57.10,433.98 L57.19,433.82 L57.27,433.67 L57.36,433.52 L57.45,433.37 L57.54,433.22 L57.63,433.07 L57.72,432.93 L57.81,432.79 L57.90,432.65 L57.99,432.52 L58.08,432.39 L58.17,432.25 L58.26,432.12 L58.35,432.00 L58.44,431.87 L58.53,431.75 L58.62,431.63 L58.71,431.51 L58.80,431.39 L58.89,431.27 L60.46,429.43 L62.02,427.88 L63.59,426.55 L65.16,425.36 L66.73,424.29 L68.29,423.31 L69.86,422.40 L71.43,421.56 L73.00,420.78 L74.57,420.04 L76.13,419.34 L77.70,418.67 L79.27,418.04 L80.84,417.43 L82.40,416.85 L83.97,416.30 L85.54,415.76 L87.11,415.24 L88.68,414.74 L90.24,414.26 L91.81,413.79 L93.38,413.34 L94.95,412.89 L96.52,412.46 L98.08,412.05 L99.65,411.64 L101.22,411.24 L102.79,410.85 L104.35,410.47 L105.92,410.10 L107.49,409.73 L109.06,409.38 L110.63,409.03 L112.19,408.69 L113.76,408.35 L115.33,408.02 L116.90,407.70 L118.46,407.38 L120.03,407.07 L121.60,406.76 L123.17,406.46 L124.74,406.16 L126.30,405.87 L127.87,405.58 L129.44,405.29 L131.01,405.01 L132.57,404.74 L134.14,404.46 L135.71,404.19 L137.28,403.93 L138.85,403.67 L140.41,403.41 L141.98,403.15 L143.55,402.90 L145.12,402.65 L146.68,402.41 L148.25,402.16 L149.82,401.92 L151.39,401.68 L152.96,401.45 L154.52,401.22 L156.09,400.98 L157.66,400.76 L159.23,400.53 L160.79,400.31 L162.36,400.09 L163.93,399.87 L165.50,399.65 L167.07,399.44 L168.63,399.22 L170.20,399.01 L171.77,398.80 L173.34,398.60 L174.91,398.39 L176.47,398.19 L178.04,397.99 L179.61,397.79 L181.18,397.59 L182.74,397.39 L184.31,397.20 L185.88,397.00 L187.45,396.81 L189.02,396.62 L190.58,396.43 L192.15,396.24 L193.72,396.06 L195.29,395.87 L196.85,395.69 L198.42,395.51 L199.99,395.33 L201.56,395.15 L203.13,394.97 L204.69,394.79 L206.26,394.61 L207.83,394.44 L209.40,394.27 L210.96,394.09 L212.53,393.92 L214.10,393.75 L215.67,393.58 L217.24,393.42 L218.80,393.25 L220.37,393.08 L221.94,392.92 L223.51,392.75 L225.07,392.59 L226.64,392.43 L228.21,392.27 L229.78,392.11 L231.35,391.95 L232.91,391.79 L234.48,391.63 L236.05,391.48 L237.62,391.32 L239.18,391.17 L240.75,391.01 L242.32,390.86 L243.89,390.71 L245.46,390.55 L247.02,390.40 L248.59,390.25 L250.16,390.10 L251.73,389.96 L253.30,389.81 L254.86,389.66 L256.43,389.52 L258.00,389.37 L259.57,389.23 L261.13,389.08 L262.70,388.94 L264.27,388.80 L265.84,388.65 L267.41,388.51 L268.97,388.37 L270.54,388.23 L272.11,388.09 L273.68,387.95 L275.24,387.81 L276.81,387.68 L278.38,387.54 L279.95,387.40 L281.52,387.27 L283.08,387.13 L284.65,387.00 L286.22,386.86 L287.79,386.73 L289.35,386.60 L290.92,386.46 L292.49,386.33 L294.06,386.20 L295.63,386.07 L297.19,385.94 L298.76,385.81 L300.33,385.68 L301.90,385.55 L303.46,385.42 L305.03,385.30 L306.60,385.17 L308.17,385.04 L309.74,384.92 L311.30,384.79 L312.87,384.66 L314.44,384.54 L316.01,384.41 L317.57,384.29 L319.14,384.17 L320.71,384.04 L322.28,383.92 L323.85,383.80 L325.41,383.68 L326.98,383.56 L328.55,383.43 L330.12,383.31 L331.69,383.19 L333.25,383.07 L334.82,382.95 L336.39,382.84 L337.96,382.72 L339.52,382.60 L341.09,382.48 L342.66,382.36 L344.23,382.25 L345.80,382.13 L347.36,382.01 L348.93,381.90 L350.50,381.78 L352.07,381.67 L353.63,381.55 L355.20,381.44 L356.77,381.32 L358.34,381.21 L359.91,381.10 L361.47,380.98 L363.04,380.87 L364.61,380.76 L366.18,380.65 L367.74,380.54 L369.31,380.42 L370.88,380.31" fill="none" stroke="#7440e6" stroke-width="1.25" stroke-linejoin="round"/>
<path d="M61.53,405.41 L66.53,410.41 L61.53,415.41 L56.53,410.41 Z" fill="none" stroke="#f97a32" stroke-width="1.25"/>
<circle cx="61.53" cy="390.34" r="4.90" fill="none" stroke="#ff0a36" stroke-width="1.45"/>
<path d="M61.53,404.31 L65.83,412.69 L57.23,412.69 Z" fill="none" stroke="#ffc000" stroke-width="1.40" stroke-linejoin="miter"/>
<rect x="56.73" y="429.98" width="9.60" height="9.60" fill="none" stroke="#4cb0f2" stroke-width="1.20"/>
<path d="M57.13,423.39 L65.93,432.19 M57.13,432.19 L65.93,423.39" fill="none" stroke="#7844ea" stroke-width="1.10"/>
<path d="M74.75,386.69 L79.75,391.69 L74.75,396.69 L69.75,391.69 Z" fill="none" stroke="#f97a32" stroke-width="1.25"/>
<circle cx="74.75" cy="365.97" r="4.90" fill="none" stroke="#ff0a36" stroke-width="1.45"/>
<path d="M74.75,361.22 L79.05,369.60 L70.45,369.60 Z" fill="none" stroke="#ffc000" stroke-width="1.40" stroke-linejoin="miter"/>
<rect x="69.95" y="379.67" width="9.60" height="9.60" fill="none" stroke="#4cb0f2" stroke-width="1.20"/>
<path d="M70.35,409.17 L79.15,417.97 M70.35,417.97 L79.15,409.17" fill="none" stroke="#7844ea" stroke-width="1.10"/>
<path d="M87.97,376.09 L92.97,381.09 L87.97,386.09 L82.97,381.09 Z" fill="none" stroke="#f97a32" stroke-width="1.25"/>
<circle cx="87.97" cy="354.01" r="4.90" fill="none" stroke="#ff0a36" stroke-width="1.45"/>
<path d="M87.97,337.98 L92.27,346.37 L83.67,346.37 Z" fill="none" stroke="#ffc000" stroke-width="1.40" stroke-linejoin="miter"/>
<rect x="83.17" y="350.57" width="9.60" height="9.60" fill="none" stroke="#4cb0f2" stroke-width="1.20"/>
<path d="M83.57,403.98 L92.37,412.78 M83.57,412.78 L92.37,403.98" fill="none" stroke="#7844ea" stroke-width="1.10"/>
<path d="M101.19,368.87 L106.19,373.87 L101.19,378.87 L96.19,373.87 Z" fill="none" stroke="#f97a32" stroke-width="1.25"/>
<circle cx="101.19" cy="344.09" r="4.90" fill="none" stroke="#ff0a36" stroke-width="1.45"/>
<path d="M101.19,324.22 L105.49,332.61 L96.89,332.61 Z" fill="none" stroke="#ffc000" stroke-width="1.40" stroke-linejoin="miter"/>
<rect x="96.39" y="333.65" width="9.60" height="9.60" fill="none" stroke="#4cb0f2" stroke-width="1.20"/>
<path d="M96.79,401.05 L105.59,409.85 M96.79,409.85 L105.59,401.05" fill="none" stroke="#7844ea" stroke-width="1.10"/>
<path d="M114.41,362.10 L119.41,367.10 L114.41,372.10 L109.41,367.10 Z" fill="none" stroke="#f97a32" stroke-width="1.25"/>
<circle cx="114.41" cy="337.32" r="4.90" fill="none" stroke="#ff0a36" stroke-width="1.45"/>
<path d="M114.41,315.20 L118.71,323.58 L110.11,323.58 Z" fill="none" stroke="#ffc000" stroke-width="1.40" stroke-linejoin="miter"/>
<rect x="109.61" y="324.62" width="9.60" height="9.60" fill="none" stroke="#4cb0f2" stroke-width="1.20"/>
<path d="M110.01,398.57 L118.81,407.37 M110.01,407.37 L118.81,398.57" fill="none" stroke="#7844ea" stroke-width="1.10"/>
<path d="M127.63,354.20 L132.63,359.20 L127.63,364.20 L122.63,359.20 Z" fill="none" stroke="#f97a32" stroke-width="1.25"/>
<circle cx="127.63" cy="330.55" r="4.90" fill="none" stroke="#ff0a36" stroke-width="1.45"/>
<path d="M127.63,310.23 L131.93,318.62 L123.33,318.62 Z" fill="none" stroke="#ffc000" stroke-width="1.40" stroke-linejoin="miter"/>
<rect x="122.83" y="318.53" width="9.60" height="9.60" fill="none" stroke="#4cb0f2" stroke-width="1.20"/>
<path d="M123.23,395.19 L132.03,403.99 M123.23,403.99 L132.03,395.19" fill="none" stroke="#7844ea" stroke-width="1.10"/>
<path d="M140.85,349.92 L145.85,354.92 L140.85,359.92 L135.85,354.92 Z" fill="none" stroke="#f97a32" stroke-width="1.25"/>
<circle cx="140.85" cy="324.69" r="4.90" fill="none" stroke="#ff0a36" stroke-width="1.45"/>
<path d="M140.85,305.27 L145.15,313.66 L136.55,313.66 Z" fill="none" stroke="#ffc000" stroke-width="1.40" stroke-linejoin="miter"/>
<rect x="136.05" y="314.25" width="9.60" height="9.60" fill="none" stroke="#4cb0f2" stroke-width="1.20"/>
<path d="M136.45,393.83 L145.25,402.63 M136.45,402.63 L145.25,393.83" fill="none" stroke="#7844ea" stroke-width="1.10"/>
<path d="M154.07,344.73 L159.07,349.73 L154.07,354.73 L149.07,349.73 Z" fill="none" stroke="#f97a32" stroke-width="1.25"/>
<circle cx="154.07" cy="318.37" r="4.90" fill="none" stroke="#ff0a36" stroke-width="1.45"/>
<path d="M154.07,300.76 L158.37,309.14 L149.77,309.14 Z" fill="none" stroke="#ffc000" stroke-width="1.40" stroke-linejoin="miter"/>
<rect x="149.27" y="310.41" width="9.60" height="9.60" fill="none" stroke="#4cb0f2" stroke-width="1.20"/>
<path d="M149.67,393.38 L158.47,402.18 M149.67,402.18 L158.47,393.38" fill="none" stroke="#7844ea" stroke-width="1.10"/>
<path d="M167.29,339.99 L172.29,344.99 L167.29,349.99 L162.29,344.99 Z" fill="none" stroke="#f97a32" stroke-width="1.25"/>
<circle cx="167.29" cy="313.41" r="4.90" fill="none" stroke="#ff0a36" stroke-width="1.45"/>
<path d="M167.29,297.60 L171.59,305.99 L162.99,305.99 Z" fill="none" stroke="#ffc000" stroke-width="1.40" stroke-linejoin="miter"/>
<rect x="162.49" y="308.61" width="9.60" height="9.60" fill="none" stroke="#4cb0f2" stroke-width="1.20"/>
<path d="M162.89,390.90 L171.69,399.70 M162.89,399.70 L171.69,390.90" fill="none" stroke="#7844ea" stroke-width="1.10"/>
<path d="M180.51,335.25 L185.51,340.25 L180.51,345.25 L175.51,340.25 Z" fill="none" stroke="#f97a32" stroke-width="1.25"/>
<circle cx="180.51" cy="309.35" r="4.90" fill="none" stroke="#ff0a36" stroke-width="1.45"/>
<path d="M180.51,295.80 L184.81,304.18 L176.21,304.18 Z" fill="none" stroke="#ffc000" stroke-width="1.40" stroke-linejoin="miter"/>
<rect x="175.71" y="306.80" width="9.60" height="9.60" fill="none" stroke="#4cb0f2" stroke-width="1.20"/>
<path d="M176.11,390.90 L184.91,399.70 M176.11,399.70 L184.91,390.90" fill="none" stroke="#7844ea" stroke-width="1.10"/>
<path d="M193.73,331.87 L198.73,336.87 L193.73,341.87 L188.73,336.87 Z" fill="none" stroke="#f97a32" stroke-width="1.25"/>
<circle cx="193.73" cy="305.28" r="4.90" fill="none" stroke="#ff0a36" stroke-width="1.45"/>
<path d="M193.73,293.77 L198.03,302.15 L189.43,302.15 Z" fill="none" stroke="#ffc000" stroke-width="1.40" stroke-linejoin="miter"/>
<rect x="188.93" y="306.12" width="9.60" height="9.60" fill="none" stroke="#4cb0f2" stroke-width="1.20"/>
<path d="M189.33,388.64 L198.13,397.44 M189.33,397.44 L198.13,388.64" fill="none" stroke="#7844ea" stroke-width="1.10"/>
<path d="M206.95,328.48 L211.95,333.48 L206.95,338.48 L201.95,333.48 Z" fill="none" stroke="#f97a32" stroke-width="1.25"/>
<circle cx="206.95" cy="301.45" r="4.90" fill="none" stroke="#ff0a36" stroke-width="1.45"/>
<path d="M206.95,290.61 L211.25,298.99 L202.65,298.99 Z" fill="none" stroke="#ffc000" stroke-width="1.40" stroke-linejoin="miter"/>
<rect x="202.15" y="304.77" width="9.60" height="9.60" fill="none" stroke="#4cb0f2" stroke-width="1.20"/>
<path d="M202.55,388.64 L211.35,397.44 M202.55,397.44 L211.35,388.64" fill="none" stroke="#7844ea" stroke-width="1.10"/>
<path d="M220.17,325.78 L225.17,330.78 L220.17,335.78 L215.17,330.78 Z" fill="none" stroke="#f97a32" stroke-width="1.25"/>
<circle cx="220.17" cy="297.39" r="4.90" fill="none" stroke="#ff0a36" stroke-width="1.45"/>
<path d="M220.17,288.58 L224.47,296.96 L215.87,296.96 Z" fill="none" stroke="#ffc000" stroke-width="1.40" stroke-linejoin="miter"/>
<rect x="215.37" y="304.09" width="9.60" height="9.60" fill="none" stroke="#4cb0f2" stroke-width="1.20"/>
<path d="M215.77,386.39 L224.57,395.19 M215.77,395.19 L224.57,386.39" fill="none" stroke="#7844ea" stroke-width="1.10"/>
<path d="M233.39,321.27 L238.39,326.27 L233.39,331.27 L228.39,326.27 Z" fill="none" stroke="#f97a32" stroke-width="1.25"/>
<circle cx="233.39" cy="295.36" r="4.90" fill="none" stroke="#ff0a36" stroke-width="1.45"/>
<path d="M233.39,286.32 L237.69,294.71 L229.09,294.71 Z" fill="none" stroke="#ffc000" stroke-width="1.40" stroke-linejoin="miter"/>
<rect x="228.59" y="302.74" width="9.60" height="9.60" fill="none" stroke="#4cb0f2" stroke-width="1.20"/>
<path d="M228.99,386.39 L237.79,395.19 M228.99,395.19 L237.79,386.39" fill="none" stroke="#7844ea" stroke-width="1.10"/>
<path d="M246.61,318.78 L251.61,323.78 L246.61,328.78 L241.61,323.78 Z" fill="none" stroke="#f97a32" stroke-width="1.25"/>
<circle cx="246.61" cy="291.30" r="4.90" fill="none" stroke="#ff0a36" stroke-width="1.45"/>
<path d="M246.61,283.84 L250.91,292.22 L242.31,292.22 Z" fill="none" stroke="#ffc000" stroke-width="1.40" stroke-linejoin="miter"/>
<rect x="241.81" y="302.29" width="9.60" height="9.60" fill="none" stroke="#4cb0f2" stroke-width="1.20"/>
<path d="M242.21,385.48 L251.01,394.28 M242.21,394.28 L251.01,385.48" fill="none" stroke="#7844ea" stroke-width="1.10"/>
<path d="M259.83,315.63 L264.83,320.63 L259.83,325.63 L254.83,320.63 Z" fill="none" stroke="#f97a32" stroke-width="1.25"/>
<circle cx="259.83" cy="287.91" r="4.90" fill="none" stroke="#ff0a36" stroke-width="1.45"/>
<path d="M259.83,281.81 L264.13,290.19 L255.53,290.19 Z" fill="none" stroke="#ffc000" stroke-width="1.40" stroke-linejoin="miter"/>
<rect x="255.03" y="301.61" width="9.60" height="9.60" fill="none" stroke="#4cb0f2" stroke-width="1.20"/>
<path d="M255.43,384.81 L264.23,393.61 M255.43,393.61 L264.23,384.81" fill="none" stroke="#7844ea" stroke-width="1.10"/>
<path d="M273.05,312.69 L278.05,317.69 L273.05,322.69 L268.05,317.69 Z" fill="none" stroke="#f97a32" stroke-width="1.25"/>
<circle cx="273.05" cy="285.21" r="4.90" fill="none" stroke="#ff0a36" stroke-width="1.45"/>
<path d="M273.05,280.68 L277.35,289.07 L268.75,289.07 Z" fill="none" stroke="#ffc000" stroke-width="1.40" stroke-linejoin="miter"/>
<rect x="268.25" y="301.16" width="9.60" height="9.60" fill="none" stroke="#4cb0f2" stroke-width="1.20"/>
<path d="M268.65,384.81 L277.45,393.61 M268.65,393.61 L277.45,384.81" fill="none" stroke="#7844ea" stroke-width="1.10"/>
<path d="M286.27,310.44 L291.27,315.44 L286.27,320.44 L281.27,315.44 Z" fill="none" stroke="#f97a32" stroke-width="1.25"/>
<circle cx="286.27" cy="281.82" r="4.90" fill="none" stroke="#ff0a36" stroke-width="1.45"/>
<path d="M286.27,279.33 L290.57,287.71 L281.97,287.71 Z" fill="none" stroke="#ffc000" stroke-width="1.40" stroke-linejoin="miter"/>
<rect x="281.47" y="300.94" width="9.60" height="9.60" fill="none" stroke="#4cb0f2" stroke-width="1.20"/>
<path d="M281.87,383.68 L290.67,392.48 M281.87,392.48 L290.67,383.68" fill="none" stroke="#7844ea" stroke-width="1.10"/>
<path d="M299.49,308.18 L304.49,313.18 L299.49,318.18 L294.49,313.18 Z" fill="none" stroke="#f97a32" stroke-width="1.25"/>
<circle cx="299.49" cy="278.66" r="4.90" fill="none" stroke="#ff0a36" stroke-width="1.45"/>
<path d="M299.49,277.75 L303.79,286.13 L295.19,286.13 Z" fill="none" stroke="#ffc000" stroke-width="1.40" stroke-linejoin="miter"/>
<rect x="294.69" y="301.16" width="9.60" height="9.60" fill="none" stroke="#4cb0f2" stroke-width="1.20"/>
<path d="M295.09,383.00 L303.89,391.80 M295.09,391.80 L303.89,383.00" fill="none" stroke="#7844ea" stroke-width="1.10"/>
<path d="M312.71,306.38 L317.71,311.38 L312.71,316.38 L307.71,311.38 Z" fill="none" stroke="#f97a32" stroke-width="1.25"/>
<circle cx="312.71" cy="276.41" r="4.90" fill="none" stroke="#ff0a36" stroke-width="1.45"/>
<path d="M312.71,276.17 L317.01,284.55 L308.41,284.55 Z" fill="none" stroke="#ffc000" stroke-width="1.40" stroke-linejoin="miter"/>
<rect x="307.91" y="300.71" width="9.60" height="9.60" fill="none" stroke="#4cb0f2" stroke-width="1.20"/>
<path d="M308.31,383.00 L317.11,391.80 M308.31,391.80 L317.11,383.00" fill="none" stroke="#7844ea" stroke-width="1.10"/>
<path d="M325.93,304.57 L330.93,309.57 L325.93,314.57 L320.93,309.57 Z" fill="none" stroke="#f97a32" stroke-width="1.25"/>
<circle cx="325.93" cy="274.60" r="4.90" fill="none" stroke="#ff0a36" stroke-width="1.45"/>
<path d="M325.93,273.69 L330.23,282.07 L321.63,282.07 Z" fill="none" stroke="#ffc000" stroke-width="1.40" stroke-linejoin="miter"/>
<rect x="321.13" y="300.48" width="9.60" height="9.60" fill="none" stroke="#4cb0f2" stroke-width="1.20"/>
<path d="M321.53,381.20 L330.33,390.00 M321.53,390.00 L330.33,381.20" fill="none" stroke="#7844ea" stroke-width="1.10"/>
<path d="M339.15,301.86 L344.15,306.86 L339.15,311.86 L334.15,306.86 Z" fill="none" stroke="#f97a32" stroke-width="1.25"/>
<circle cx="339.15" cy="272.57" r="4.90" fill="none" stroke="#ff0a36" stroke-width="1.45"/>
<path d="M339.15,272.11 L343.45,280.49 L334.85,280.49 Z" fill="none" stroke="#ffc000" stroke-width="1.40" stroke-linejoin="miter"/>
<rect x="334.35" y="300.48" width="9.60" height="9.60" fill="none" stroke="#4cb0f2" stroke-width="1.20"/>
<path d="M334.75,381.20 L343.55,390.00 M334.75,390.00 L343.55,381.20" fill="none" stroke="#7844ea" stroke-width="1.10"/>
<path d="M352.37,299.38 L357.37,304.38 L352.37,309.38 L347.37,304.38 Z" fill="none" stroke="#f97a32" stroke-width="1.25"/>
<circle cx="352.37" cy="270.99" r="4.90" fill="none" stroke="#ff0a36" stroke-width="1.45"/>
<path d="M352.37,270.98 L356.67,279.36 L348.07,279.36 Z" fill="none" stroke="#ffc000" stroke-width="1.40" stroke-linejoin="miter"/>
<rect x="347.57" y="300.26" width="9.60" height="9.60" fill="none" stroke="#4cb0f2" stroke-width="1.20"/>
<path d="M347.97,381.20 L356.77,390.00 M347.97,390.00 L356.77,381.20" fill="none" stroke="#7844ea" stroke-width="1.10"/>
<path d="M365.59,297.13 L370.59,302.13 L365.59,307.13 L360.59,302.13 Z" fill="none" stroke="#f97a32" stroke-width="1.25"/>
<circle cx="365.59" cy="269.87" r="4.90" fill="none" stroke="#ff0a36" stroke-width="1.45"/>
<path d="M365.59,269.85 L369.89,278.24 L361.29,278.24 Z" fill="none" stroke="#ffc000" stroke-width="1.40" stroke-linejoin="miter"/>
<rect x="360.79" y="300.03" width="9.60" height="9.60" fill="none" stroke="#4cb0f2" stroke-width="1.20"/>
<path d="M361.19,379.62 L369.99,388.42 M361.19,388.42 L369.99,379.62" fill="none" stroke="#7844ea" stroke-width="1.10"/>
<rect x="93.4" y="6.0" width="129.8" height="30.4" fill="#ffffff" stroke="#d6dadc" stroke-width="0.9"/>
<path d="M102.30,10.20 L106.10,14.00 L102.30,17.80 L98.50,14.00 Z" fill="none" stroke="#f8946a" stroke-width="0.95"/>
<circle cx="145.40" cy="13.80" r="3.50" fill="none" stroke="#f84068" stroke-width="1.10"/>
<path d="M188.40,10.10 L192.10,17.32 L184.70,17.32 Z" fill="none" stroke="#ffc820" stroke-width="1.10" stroke-linejoin="miter"/>
<rect x="98.80" y="25.60" width="6.80" height="6.80" fill="none" stroke="#58b8f4" stroke-width="1.00"/>
<path d="M141.80,25.50 L149.00,32.70 M141.80,32.70 L149.00,25.50" fill="none" stroke="#a07af0" stroke-width="1.00"/>
<text x="109.30" y="17.80" font-size="10.70" text-anchor="start" fill="#0a0a0a" textLength="24.30" lengthAdjust="spacingAndGlyphs" stroke="#0a0a0a" stroke-width="0.12" style="font-family:'Liberation Sans',sans-serif">pH 2</text>
<text x="152.30" y="17.80" font-size="10.70" text-anchor="start" fill="#0a0a0a" textLength="24.30" lengthAdjust="spacingAndGlyphs" stroke="#0a0a0a" stroke-width="0.12" style="font-family:'Liberation Sans',sans-serif">pH 3</text>
<text x="195.90" y="17.80" font-size="10.70" text-anchor="start" fill="#0a0a0a" textLength="24.30" lengthAdjust="spacingAndGlyphs" stroke="#0a0a0a" stroke-width="0.12" style="font-family:'Liberation Sans',sans-serif">pH 4</text>
<text x="109.30" y="32.40" font-size="10.70" text-anchor="start" fill="#0a0a0a" textLength="24.30" lengthAdjust="spacingAndGlyphs" stroke="#0a0a0a" stroke-width="0.12" style="font-family:'Liberation Sans',sans-serif">pH 5</text>
<text x="152.30" y="32.40" font-size="10.70" text-anchor="start" fill="#0a0a0a" textLength="24.30" lengthAdjust="spacingAndGlyphs" stroke="#0a0a0a" stroke-width="0.12" style="font-family:'Liberation Sans',sans-serif">pH 6</text>
<text x="39.80" y="213.10" font-size="11.50" text-anchor="end" fill="#0a0a0a" stroke="#0a0a0a" stroke-width="0.34" style="font-family:'Liberation Sans',sans-serif">0</text>
<text x="39.80" y="184.24" font-size="11.50" text-anchor="end" fill="#0a0a0a" stroke="#0a0a0a" stroke-width="0.34" style="font-family:'Liberation Sans',sans-serif">2</text>
<text x="39.80" y="155.38" font-size="11.50" text-anchor="end" fill="#0a0a0a" stroke="#0a0a0a" stroke-width="0.34" style="font-family:'Liberation Sans',sans-serif">4</text>
<text x="39.80" y="126.52" font-size="11.50" text-anchor="end" fill="#0a0a0a" stroke="#0a0a0a" stroke-width="0.34" style="font-family:'Liberation Sans',sans-serif">6</text>
<text x="39.80" y="97.66" font-size="11.50" text-anchor="end" fill="#0a0a0a" stroke="#0a0a0a" stroke-width="0.34" style="font-family:'Liberation Sans',sans-serif">8</text>
<text x="39.80" y="68.80" font-size="11.50" text-anchor="end" fill="#0a0a0a" stroke="#0a0a0a" stroke-width="0.34" style="font-family:'Liberation Sans',sans-serif">10</text>
<text x="39.80" y="39.94" font-size="11.50" text-anchor="end" fill="#0a0a0a" stroke="#0a0a0a" stroke-width="0.34" style="font-family:'Liberation Sans',sans-serif">12</text>
<text x="39.80" y="11.08" font-size="11.50" text-anchor="end" fill="#0a0a0a" stroke="#0a0a0a" stroke-width="0.34" style="font-family:'Liberation Sans',sans-serif">14</text>
<text x="52.40" y="230.80" font-size="11.50" text-anchor="middle" fill="#0a0a0a" stroke="#0a0a0a" stroke-width="0.34" style="font-family:'Liberation Sans',sans-serif">0</text>
<text x="104.40" y="230.80" font-size="11.50" text-anchor="middle" fill="#0a0a0a" stroke="#0a0a0a" stroke-width="0.34" style="font-family:'Liberation Sans',sans-serif">20</text>
<text x="156.40" y="230.80" font-size="11.50" text-anchor="middle" fill="#0a0a0a" stroke="#0a0a0a" stroke-width="0.34" style="font-family:'Liberation Sans',sans-serif">40</text>
<text x="208.40" y="230.80" font-size="11.50" text-anchor="middle" fill="#0a0a0a" stroke="#0a0a0a" stroke-width="0.34" style="font-family:'Liberation Sans',sans-serif">60</text>
<text x="260.40" y="230.80" font-size="11.50" text-anchor="middle" fill="#0a0a0a" stroke="#0a0a0a" stroke-width="0.34" style="font-family:'Liberation Sans',sans-serif">80</text>
<text x="312.40" y="230.80" font-size="11.50" text-anchor="middle" fill="#0a0a0a" stroke="#0a0a0a" stroke-width="0.34" style="font-family:'Liberation Sans',sans-serif">100</text>
<text x="364.40" y="230.80" font-size="11.50" text-anchor="middle" fill="#0a0a0a" stroke="#0a0a0a" stroke-width="0.34" style="font-family:'Liberation Sans',sans-serif">120</text>
<text x="165.20" y="244.60" font-size="11.30" text-anchor="start" fill="#0a0a0a" textLength="56.60" lengthAdjust="spacingAndGlyphs" stroke="#0a0a0a" stroke-width="0.34" style="font-family:'Liberation Sans',sans-serif">Time (min)</text>
<text x="0.00" y="0.00" font-size="11.60" text-anchor="start" fill="#0a0a0a" textLength="35.30" lengthAdjust="spacingAndGlyphs" stroke="#0a0a0a" stroke-width="0.20" transform="translate(13.2,129.2) rotate(-90)" style="font-family:'Liberation Sans',sans-serif">DH (%)</text>
<text x="63.50" y="19.60" font-size="13.40" text-anchor="start" fill="#0a0a0a" stroke="#0a0a0a" stroke-width="0.27" style="font-family:'Liberation Sans',sans-serif">(</text>
<text x="67.40" y="20.00" font-size="12.00" text-anchor="start" fill="#0a0a0a" textLength="9.40" lengthAdjust="spacingAndGlyphs" stroke="#0a0a0a" stroke-width="0.34" style="font-family:'Liberation Sans',sans-serif">A</text>
<text x="77.00" y="19.60" font-size="13.40" text-anchor="start" fill="#0a0a0a" stroke="#0a0a0a" stroke-width="0.27" style="font-family:'Liberation Sans',sans-serif">)</text>
<text x="41.50" y="465.40" font-size="11.30" text-anchor="end" fill="#0a0a0a" stroke="#0a0a0a" stroke-width="0.36" style="font-family:'Liberation Sans',sans-serif">0</text>
<text x="41.50" y="420.28" font-size="11.30" text-anchor="end" fill="#0a0a0a" stroke="#0a0a0a" stroke-width="0.36" style="font-family:'Liberation Sans',sans-serif">2</text>
<text x="41.50" y="375.16" font-size="11.30" text-anchor="end" fill="#0a0a0a" stroke="#0a0a0a" stroke-width="0.36" style="font-family:'Liberation Sans',sans-serif">4</text>
<text x="41.50" y="330.04" font-size="11.30" text-anchor="end" fill="#0a0a0a" stroke="#0a0a0a" stroke-width="0.36" style="font-family:'Liberation Sans',sans-serif">6</text>
<text x="41.50" y="284.92" font-size="11.30" text-anchor="end" fill="#0a0a0a" stroke="#0a0a0a" stroke-width="0.36" style="font-family:'Liberation Sans',sans-serif">8</text>
<text x="53.90" y="482.70" font-size="11.30" text-anchor="middle" fill="#0a0a0a" stroke="#0a0a0a" stroke-width="0.36" style="font-family:'Liberation Sans',sans-serif">0</text>
<text x="106.78" y="482.70" font-size="11.30" text-anchor="middle" fill="#0a0a0a" stroke="#0a0a0a" stroke-width="0.36" style="font-family:'Liberation Sans',sans-serif">20</text>
<text x="159.66" y="482.70" font-size="11.30" text-anchor="middle" fill="#0a0a0a" stroke="#0a0a0a" stroke-width="0.36" style="font-family:'Liberation Sans',sans-serif">40</text>
<text x="212.54" y="482.70" font-size="11.30" text-anchor="middle" fill="#0a0a0a" stroke="#0a0a0a" stroke-width="0.36" style="font-family:'Liberation Sans',sans-serif">60</text>
<text x="265.42" y="482.70" font-size="11.30" text-anchor="middle" fill="#0a0a0a" stroke="#0a0a0a" stroke-width="0.36" style="font-family:'Liberation Sans',sans-serif">80</text>
<text x="318.30" y="482.70" font-size="11.30" text-anchor="middle" fill="#0a0a0a" stroke="#0a0a0a" stroke-width="0.36" style="font-family:'Liberation Sans',sans-serif">100</text>
<text x="371.18" y="482.70" font-size="11.30" text-anchor="middle" fill="#0a0a0a" stroke="#0a0a0a" stroke-width="0.36" style="font-family:'Liberation Sans',sans-serif">120</text>
<text x="168.00" y="500.90" font-size="11.30" text-anchor="start" fill="#0a0a0a" textLength="55.90" lengthAdjust="spacingAndGlyphs" stroke="#0a0a0a" stroke-width="0.36" style="font-family:'Liberation Sans',sans-serif">Time (min)</text>
<text x="0.00" y="0.00" font-size="11.60" text-anchor="start" fill="#0a0a0a" textLength="35.00" lengthAdjust="spacingAndGlyphs" stroke="#0a0a0a" stroke-width="0.30" transform="translate(10.2,378.7) rotate(-90)" style="font-family:'Liberation Sans',sans-serif">DH (%)</text>
<text x="67.10" y="269.20" font-size="12.80" text-anchor="start" fill="#0a0a0a" stroke="#0a0a0a" stroke-width="0.29" style="font-family:'Liberation Sans',sans-serif">(</text>
<text x="72.30" y="269.50" font-size="11.30" text-anchor="start" fill="#0a0a0a" textLength="6.90" lengthAdjust="spacingAndGlyphs" stroke="#0a0a0a" stroke-width="0.36" style="font-family:'Liberation Sans',sans-serif">B</text>
<text x="79.60" y="269.20" font-size="12.80" text-anchor="start" fill="#0a0a0a" stroke="#0a0a0a" stroke-width="0.29" style="font-family:'Liberation Sans',sans-serif">)</text>
</svg>
</body></html>
